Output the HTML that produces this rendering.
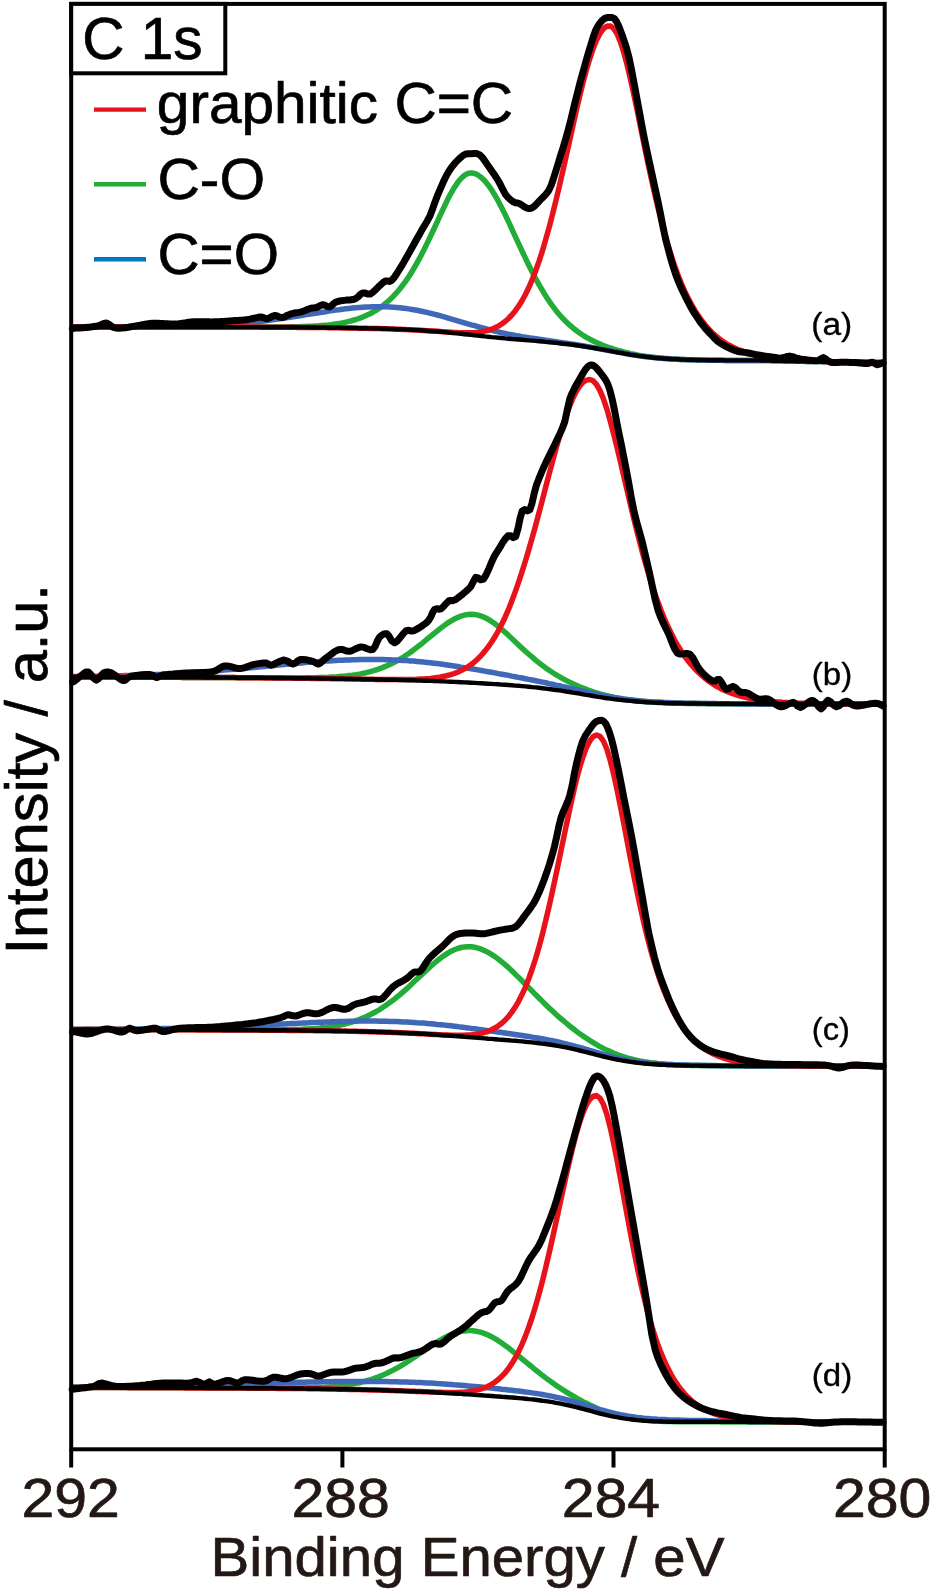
<!DOCTYPE html>
<html><head><meta charset="utf-8"><title>C 1s XPS</title>
<style>
html,body{margin:0;padding:0;background:#fff;}
svg{display:block;filter:blur(0.4px)}
text{font-family:"Liberation Sans",Arial,Helvetica,sans-serif;stroke-linejoin:round;}
</style></head><body>
<svg width="932" height="1591" viewBox="0 0 932 1591">
<rect width="932" height="1591" fill="#fff"/>
<g>
<path d="M71.2,327.0 L74.6,327.0 L78.0,327.0 L81.4,327.0 L84.8,327.0 L88.1,327.0 L91.5,327.0 L94.9,327.0 L98.3,327.0 L101.7,327.0 L105.1,327.0 L108.5,327.0 L111.9,327.0 L115.3,327.0 L118.7,327.0 L122.0,327.0 L125.4,327.0 L128.8,327.0 L132.2,327.0 L135.6,327.0 L139.0,327.0 L142.4,327.0 L145.8,327.0 L149.2,327.0 L152.6,327.0 L155.9,327.0 L159.3,327.0 L162.7,327.0 L166.1,327.0 L169.5,327.0 L172.9,327.0 L176.3,327.0 L179.7,327.0 L183.1,327.0 L186.4,327.0 L189.8,327.0 L193.2,327.0 L196.6,327.0 L200.0,327.0 L203.4,327.0 L206.8,327.0 L210.2,327.0 L213.6,327.0 L217.0,327.0 L220.3,327.0 L223.7,327.0 L227.1,327.0 L230.5,327.1 L233.9,327.1 L237.3,327.1 L240.7,327.1 L244.1,327.1 L247.5,327.1 L250.8,327.1 L254.2,327.1 L257.6,327.1 L261.0,327.1 L264.4,327.0 L267.8,327.0 L271.2,327.0 L274.6,327.0 L278.0,327.0 L281.4,327.0 L284.7,326.9 L288.1,326.9 L291.5,326.8 L294.9,326.8 L298.3,326.7 L301.7,326.6 L305.1,326.5 L308.5,326.3 L311.9,326.2 L315.3,326.0 L318.6,325.8 L322.0,325.5 L325.4,325.2 L328.8,324.9 L332.2,324.5 L335.6,324.0 L339.0,323.5 L342.4,322.9 L345.8,322.2 L349.1,321.4 L352.5,320.5 L355.9,319.5 L359.3,318.4 L362.7,317.1 L366.1,315.6 L369.5,314.0 L372.9,312.2 L376.3,310.2 L379.7,308.0 L383.0,305.5 L386.4,302.7 L389.8,299.7 L393.2,296.4 L396.6,292.7 L400.0,288.7 L403.4,284.3 L406.8,279.6 L410.2,274.5 L413.5,269.0 L416.9,263.1 L420.3,256.9 L423.7,250.3 L427.1,243.4 L430.5,236.3 L433.9,229.0 L437.3,221.6 L440.7,214.2 L444.1,207.0 L447.4,200.1 L450.8,193.6 L454.2,187.7 L457.6,182.6 L461.0,178.5 L464.4,175.4 L467.8,173.5 L471.2,172.9 L474.6,173.5 L478.0,175.1 L481.3,177.5 L484.7,180.8 L488.1,184.9 L491.5,189.7 L494.9,195.2 L498.3,201.2 L501.7,207.7 L505.1,214.5 L508.5,221.6 L511.8,228.9 L515.2,236.3 L518.6,243.7 L522.0,251.0 L525.4,258.2 L528.8,265.2 L532.2,271.9 L535.6,278.4 L539.0,284.6 L542.4,290.4 L545.7,295.9 L549.1,301.1 L552.5,305.9 L555.9,310.4 L559.3,314.5 L562.7,318.3 L566.1,321.7 L569.5,324.9 L572.9,327.8 L576.2,330.5 L579.6,333.0 L583.0,335.2 L586.4,337.3 L589.8,339.2 L593.2,341.0 L596.6,342.6 L600.0,344.1 L603.4,345.5 L606.8,346.8 L610.1,348.0 L613.5,349.0 L616.9,350.1 L620.3,351.0 L623.7,351.9 L627.1,352.8 L630.5,353.6 L633.9,354.3 L637.3,355.0 L640.7,355.6 L644.0,356.1 L647.4,356.6 L650.8,357.0 L654.2,357.4 L657.6,357.8 L661.0,358.1 L664.4,358.4 L667.8,358.6 L671.2,358.9 L674.5,359.1 L677.9,359.3 L681.3,359.4 L684.7,359.6 L688.1,359.7 L691.5,359.8 L694.9,359.9 L698.3,360.0 L701.7,360.1 L705.1,360.1 L708.4,360.2 L711.8,360.2 L715.2,360.3 L718.6,360.3 L722.0,360.3 L725.4,360.4 L728.8,360.4 L732.2,360.4 L735.6,360.4 L738.9,360.4 L742.3,360.4 L745.7,360.4 L749.1,360.4 L752.5,360.4 L755.9,360.4 L759.3,360.4 L762.7,360.5 L766.1,360.6 L769.5,360.6 L772.8,360.7 L776.2,360.8 L779.6,360.8 L783.0,360.9 L786.4,361.0 L789.8,361.0 L793.2,361.1 L796.6,361.2 L800.0,361.2 L803.4,361.3 L806.7,361.4 L810.1,361.4 L813.5,361.5 L816.9,361.6 L820.3,361.6 L823.7,361.7 L827.1,361.8 L830.5,361.8 L833.9,361.9 L837.2,361.9 L840.6,362.0 L844.0,362.0 L847.4,362.1 L850.8,362.1 L854.2,362.2 L857.6,362.2 L861.0,362.2 L864.4,362.3 L867.8,362.3 L871.1,362.4 L874.5,362.4 L877.9,362.4 L881.3,362.5 L884.7,362.5" fill="none" stroke="#22ac38" stroke-width="5.5" stroke-linejoin="round"/>
<path d="M71.2,327.0 L74.6,327.0 L78.0,327.0 L81.4,327.0 L84.8,327.0 L88.1,327.0 L91.5,327.0 L94.9,327.0 L98.3,327.0 L101.7,327.0 L105.1,327.0 L108.5,326.9 L111.9,326.9 L115.3,326.9 L118.7,326.9 L122.0,326.9 L125.4,326.9 L128.8,326.9 L132.2,326.9 L135.6,326.8 L139.0,326.8 L142.4,326.8 L145.8,326.8 L149.2,326.8 L152.6,326.7 L155.9,326.7 L159.3,326.6 L162.7,326.6 L166.1,326.6 L169.5,326.5 L172.9,326.4 L176.3,326.4 L179.7,326.3 L183.1,326.2 L186.4,326.2 L189.8,326.1 L193.2,326.0 L196.6,325.9 L200.0,325.7 L203.4,325.6 L206.8,325.5 L210.2,325.3 L213.6,325.2 L217.0,325.0 L220.3,324.8 L223.7,324.6 L227.1,324.4 L230.5,324.1 L233.9,323.9 L237.3,323.6 L240.7,323.3 L244.1,323.0 L247.5,322.7 L250.8,322.4 L254.2,322.0 L257.6,321.7 L261.0,321.3 L264.4,320.9 L267.8,320.5 L271.2,320.0 L274.6,319.6 L278.0,319.1 L281.4,318.6 L284.7,318.1 L288.1,317.6 L291.5,317.1 L294.9,316.6 L298.3,316.0 L301.7,315.5 L305.1,314.9 L308.5,314.4 L311.9,313.8 L315.3,313.3 L318.6,312.7 L322.0,312.2 L325.4,311.7 L328.8,311.1 L332.2,310.6 L335.6,310.1 L339.0,309.7 L342.4,309.2 L345.8,308.8 L349.1,308.4 L352.5,308.1 L355.9,307.8 L359.3,307.5 L362.7,307.2 L366.1,307.0 L369.5,306.9 L372.9,306.8 L376.3,306.7 L379.7,306.7 L383.0,306.7 L386.4,306.8 L389.8,307.0 L393.2,307.2 L396.6,307.4 L400.0,307.8 L403.4,308.2 L406.8,308.6 L410.2,309.1 L413.5,309.7 L416.9,310.3 L420.3,311.0 L423.7,311.7 L427.1,312.4 L430.5,313.3 L433.9,314.1 L437.3,315.0 L440.7,315.9 L444.1,316.8 L447.4,317.8 L450.8,318.8 L454.2,319.8 L457.6,320.8 L461.0,321.8 L464.4,322.8 L467.8,323.8 L471.2,324.8 L474.6,325.7 L478.0,326.7 L481.3,327.6 L484.7,328.5 L488.1,329.4 L491.5,330.3 L494.9,331.1 L498.3,331.9 L501.7,332.7 L505.1,333.4 L508.5,334.1 L511.8,334.7 L515.2,335.4 L518.6,336.0 L522.0,336.6 L525.4,337.1 L528.8,337.7 L532.2,338.2 L535.6,338.7 L539.0,339.2 L542.4,339.7 L545.7,340.2 L549.1,340.7 L552.5,341.2 L555.9,341.7 L559.3,342.3 L562.7,342.7 L566.1,343.2 L569.5,343.7 L572.9,344.2 L576.2,344.7 L579.6,345.3 L583.0,345.8 L586.4,346.4 L589.8,347.0 L593.2,347.6 L596.6,348.2 L600.0,348.9 L603.4,349.5 L606.8,350.1 L610.1,350.8 L613.5,351.4 L616.9,352.0 L620.3,352.6 L623.7,353.3 L627.1,353.9 L630.5,354.5 L633.9,355.0 L637.3,355.6 L640.7,356.1 L644.0,356.5 L647.4,356.9 L650.8,357.3 L654.2,357.6 L657.6,358.0 L661.0,358.2 L664.4,358.5 L667.8,358.7 L671.2,358.9 L674.5,359.1 L677.9,359.3 L681.3,359.5 L684.7,359.6 L688.1,359.7 L691.5,359.8 L694.9,359.9 L698.3,360.0 L701.7,360.1 L705.1,360.1 L708.4,360.2 L711.8,360.2 L715.2,360.3 L718.6,360.3 L722.0,360.3 L725.4,360.4 L728.8,360.4 L732.2,360.4 L735.6,360.4 L738.9,360.4 L742.3,360.4 L745.7,360.4 L749.1,360.4 L752.5,360.4 L755.9,360.4 L759.3,360.4 L762.7,360.5 L766.1,360.6 L769.5,360.6 L772.8,360.7 L776.2,360.8 L779.6,360.8 L783.0,360.9 L786.4,361.0 L789.8,361.0 L793.2,361.1 L796.6,361.2 L800.0,361.2 L803.4,361.3 L806.7,361.4 L810.1,361.4 L813.5,361.5 L816.9,361.6 L820.3,361.6 L823.7,361.7 L827.1,361.8 L830.5,361.8 L833.9,361.9 L837.2,361.9 L840.6,362.0 L844.0,362.0 L847.4,362.1 L850.8,362.1 L854.2,362.2 L857.6,362.2 L861.0,362.2 L864.4,362.3 L867.8,362.3 L871.1,362.4 L874.5,362.4 L877.9,362.4 L881.3,362.5 L884.7,362.5" fill="none" stroke="#3f68b8" stroke-width="5.5" stroke-linejoin="round"/>
<path d="M71.2,327.0 L74.6,327.0 L78.0,327.0 L81.4,327.0 L84.8,327.0 L88.1,327.0 L91.5,327.0 L94.9,327.0 L98.3,327.0 L101.7,327.0 L105.1,327.0 L108.5,327.0 L111.9,327.0 L115.3,327.0 L118.7,327.0 L122.0,327.0 L125.4,327.0 L128.8,327.0 L132.2,327.0 L135.6,327.0 L139.0,327.0 L142.4,327.0 L145.8,327.0 L149.2,327.0 L152.6,327.0 L155.9,327.0 L159.3,327.0 L162.7,327.0 L166.1,327.0 L169.5,327.0 L172.9,327.0 L176.3,327.0 L179.7,327.0 L183.1,327.0 L186.4,327.0 L189.8,327.0 L193.2,327.0 L196.6,327.0 L200.0,327.0 L203.4,327.0 L206.8,327.0 L210.2,327.0 L213.6,327.0 L217.0,327.0 L220.3,327.0 L223.7,327.1 L227.1,327.1 L230.5,327.1 L233.9,327.1 L237.3,327.1 L240.7,327.1 L244.1,327.1 L247.5,327.1 L250.8,327.1 L254.2,327.1 L257.6,327.1 L261.0,327.2 L264.4,327.2 L267.8,327.2 L271.2,327.2 L274.6,327.2 L278.0,327.2 L281.4,327.3 L284.7,327.3 L288.1,327.3 L291.5,327.3 L294.9,327.3 L298.3,327.4 L301.7,327.4 L305.1,327.4 L308.5,327.5 L311.9,327.5 L315.3,327.5 L318.6,327.6 L322.0,327.6 L325.4,327.6 L328.8,327.7 L332.2,327.7 L335.6,327.8 L339.0,327.8 L342.4,327.9 L345.8,327.9 L349.1,328.0 L352.5,328.0 L355.9,328.1 L359.3,328.2 L362.7,328.2 L366.1,328.3 L369.5,328.4 L372.9,328.4 L376.3,328.5 L379.7,328.6 L383.0,328.7 L386.4,328.8 L389.8,328.9 L393.2,329.0 L396.6,329.2 L400.0,329.3 L403.4,329.4 L406.8,329.6 L410.2,329.7 L413.5,329.9 L416.9,330.1 L420.3,330.3 L423.7,330.5 L427.1,330.7 L430.5,330.9 L433.9,331.1 L437.3,331.3 L440.7,331.6 L444.1,331.8 L447.4,332.0 L450.8,332.2 L454.2,332.4 L457.6,332.6 L461.0,332.7 L464.4,332.8 L467.8,332.8 L471.2,332.8 L474.6,332.6 L478.0,332.3 L481.3,331.8 L484.7,331.2 L488.1,330.3 L491.5,329.2 L494.9,327.8 L498.3,326.1 L501.7,324.0 L505.1,321.5 L508.5,318.5 L511.8,315.0 L515.2,310.9 L518.6,306.2 L522.0,300.7 L525.4,294.5 L528.8,287.5 L532.2,279.7 L535.6,271.0 L539.0,261.4 L542.4,250.9 L545.7,239.6 L549.1,227.4 L552.5,214.4 L555.9,200.7 L559.3,186.4 L562.7,171.6 L566.1,156.4 L569.5,141.1 L572.9,125.9 L576.2,110.9 L579.6,96.4 L583.0,82.7 L586.4,70.0 L589.8,58.5 L593.2,48.4 L596.6,40.0 L600.0,33.4 L603.4,28.8 L606.8,26.3 L610.1,25.9 L613.5,28.2 L616.9,33.5 L620.3,41.6 L623.7,52.2 L627.1,64.9 L630.5,79.3 L633.9,94.8 L637.3,111.0 L640.7,127.6 L644.0,144.2 L647.4,160.6 L650.8,176.5 L654.2,191.7 L657.6,206.2 L661.0,219.8 L664.4,232.5 L667.8,244.4 L671.2,255.4 L674.5,265.5 L677.9,274.8 L681.3,283.3 L684.7,291.1 L688.1,298.1 L691.5,304.6 L694.9,310.4 L698.3,315.7 L701.7,320.5 L705.1,324.8 L708.4,328.7 L711.8,332.2 L715.2,335.3 L718.6,338.2 L722.0,340.7 L725.4,343.0 L728.8,345.0 L732.2,346.8 L735.6,348.4 L738.9,349.9 L742.3,351.1 L745.7,352.3 L749.1,353.3 L752.5,354.2 L755.9,355.0 L759.3,355.6 L762.7,356.3 L766.1,356.9 L769.5,357.5 L772.8,358.0 L776.2,358.4 L779.6,358.8 L783.0,359.1 L786.4,359.4 L789.8,359.7 L793.2,360.0 L796.6,360.2 L800.0,360.4 L803.4,360.6 L806.7,360.8 L810.1,360.9 L813.5,361.1 L816.9,361.2 L820.3,361.3 L823.7,361.4 L827.1,361.5 L830.5,361.6 L833.9,361.7 L837.2,361.8 L840.6,361.9 L844.0,361.9 L847.4,362.0 L850.8,362.1 L854.2,362.1 L857.6,362.2 L861.0,362.2 L864.4,362.2 L867.8,362.3 L871.1,362.3 L874.5,362.4 L877.9,362.4 L881.3,362.5 L884.7,362.5" fill="none" stroke="#e7121a" stroke-width="5.5" stroke-linejoin="round"/>
<path d="M71.2,327.0 L74.6,327.0 L78.0,327.0 L81.4,327.0 L84.8,327.0 L88.1,327.0 L91.5,327.0 L94.9,327.0 L98.3,327.0 L101.7,327.0 L105.1,327.0 L108.5,327.0 L111.9,327.0 L115.3,327.0 L118.7,327.0 L122.0,327.0 L125.4,327.0 L128.8,327.0 L132.2,327.0 L135.6,327.0 L139.0,327.0 L142.4,327.0 L145.8,327.0 L149.2,327.0 L152.6,327.0 L155.9,327.0 L159.3,327.0 L162.7,327.0 L166.1,327.0 L169.5,327.0 L172.9,327.0 L176.3,327.0 L179.7,327.0 L183.1,327.0 L186.4,327.0 L189.8,327.0 L193.2,327.0 L196.6,327.0 L200.0,327.0 L203.4,327.0 L206.8,327.0 L210.2,327.0 L213.6,327.0 L217.0,327.0 L220.3,327.0 L223.7,327.1 L227.1,327.1 L230.5,327.1 L233.9,327.1 L237.3,327.1 L240.7,327.1 L244.1,327.1 L247.5,327.1 L250.8,327.1 L254.2,327.1 L257.6,327.1 L261.0,327.2 L264.4,327.2 L267.8,327.2 L271.2,327.2 L274.6,327.2 L278.0,327.2 L281.4,327.3 L284.7,327.3 L288.1,327.3 L291.5,327.3 L294.9,327.3 L298.3,327.4 L301.7,327.4 L305.1,327.4 L308.5,327.5 L311.9,327.5 L315.3,327.5 L318.6,327.6 L322.0,327.6 L325.4,327.6 L328.8,327.7 L332.2,327.7 L335.6,327.8 L339.0,327.8 L342.4,327.9 L345.8,327.9 L349.1,328.0 L352.5,328.0 L355.9,328.1 L359.3,328.2 L362.7,328.2 L366.1,328.3 L369.5,328.4 L372.9,328.4 L376.3,328.5 L379.7,328.6 L383.0,328.7 L386.4,328.8 L389.8,328.9 L393.2,329.0 L396.6,329.2 L400.0,329.3 L403.4,329.4 L406.8,329.6 L410.2,329.8 L413.5,329.9 L416.9,330.1 L420.3,330.3 L423.7,330.5 L427.1,330.8 L430.5,331.0 L433.9,331.2 L437.3,331.5 L440.7,331.8 L444.1,332.1 L447.4,332.4 L450.8,332.7 L454.2,333.1 L457.6,333.4 L461.0,333.8 L464.4,334.2 L467.8,334.5 L471.2,334.9 L474.6,335.3 L478.0,335.6 L481.3,336.0 L484.7,336.4 L488.1,336.7 L491.5,337.1 L494.9,337.4 L498.3,337.7 L501.7,338.0 L505.1,338.4 L508.5,338.7 L511.8,339.0 L515.2,339.2 L518.6,339.5 L522.0,339.8 L525.4,340.1 L528.8,340.4 L532.2,340.6 L535.6,340.9 L539.0,341.2 L542.4,341.5 L545.7,341.9 L549.1,342.2 L552.5,342.5 L555.9,342.9 L559.3,343.3 L562.7,343.7 L566.1,344.0 L569.5,344.4 L572.9,344.8 L576.2,345.3 L579.6,345.8 L583.0,346.3 L586.4,346.8 L589.8,347.4 L593.2,347.9 L596.6,348.5 L600.0,349.1 L603.4,349.7 L606.8,350.3 L610.1,350.9 L613.5,351.6 L616.9,352.2 L620.3,352.7 L623.7,353.4 L627.1,354.0 L630.5,354.6 L633.9,355.1 L637.3,355.6 L640.7,356.1 L644.0,356.5 L647.4,356.9 L650.8,357.3 L654.2,357.7 L657.6,358.0 L661.0,358.3 L664.4,358.5 L667.8,358.7 L671.2,359.0 L674.5,359.1 L677.9,359.3 L681.3,359.5 L684.7,359.6 L688.1,359.7 L691.5,359.8 L694.9,359.9 L698.3,360.0 L701.7,360.1 L705.1,360.1 L708.4,360.2 L711.8,360.2 L715.2,360.3 L718.6,360.3 L722.0,360.3 L725.4,360.4 L728.8,360.4 L732.2,360.4 L735.6,360.4 L738.9,360.4 L742.3,360.4 L745.7,360.4 L749.1,360.4 L752.5,360.4 L755.9,360.4 L759.3,360.4 L762.7,360.5 L766.1,360.6 L769.5,360.6 L772.8,360.7 L776.2,360.8 L779.6,360.8 L783.0,360.9 L786.4,361.0 L789.8,361.0 L793.2,361.1 L796.6,361.2 L800.0,361.2 L803.4,361.3 L806.7,361.4 L810.1,361.4 L813.5,361.5 L816.9,361.6 L820.3,361.6 L823.7,361.7 L827.1,361.8 L830.5,361.8 L833.9,361.9 L837.2,361.9 L840.6,362.0 L844.0,362.0 L847.4,362.1 L850.8,362.1 L854.2,362.2 L857.6,362.2 L861.0,362.2 L864.4,362.3 L867.8,362.3 L871.1,362.4 L874.5,362.4 L877.9,362.4 L881.3,362.5 L884.7,362.5" fill="none" stroke="#000" stroke-width="4.4" stroke-linejoin="round"/>
<path d="M72.5,328.6 L72.7,328.4 L74.2,328.2 L76.4,328.1 L79.3,327.9 L82.6,327.8 L85.8,327.5 L88.4,327.2 L91.1,326.9 L93.8,326.5 L96.3,326.1 L98.6,325.7 L101.5,324.6 L103.8,323.4 L106.4,323.1 L108.6,324.0 L110.8,325.6 L113.3,327.3 L116.7,328.2 L119.1,328.2 L122.0,328.0 L125.1,327.7 L128.3,327.2 L131.5,326.6 L134.5,326.1 L137.3,325.7 L140.1,325.3 L142.5,324.8 L144.8,324.3 L147.2,323.9 L149.7,323.5 L152.7,323.3 L155.3,323.2 L158.1,323.3 L161.1,323.4 L164.1,323.6 L167.2,323.7 L170.3,323.9 L173.2,323.9 L175.9,323.9 L178.7,323.7 L181.3,323.4 L183.8,323.1 L186.3,322.7 L188.7,322.3 L191.2,322.0 L193.9,321.8 L196.7,321.7 L199.4,321.7 L202.3,321.7 L205.2,321.8 L208.2,321.8 L211.3,321.9 L214.5,321.8 L217.2,321.7 L220.2,321.6 L223.3,321.4 L226.5,321.2 L229.7,321.0 L232.7,320.8 L235.5,320.6 L238.1,320.5 L240.3,320.3 L243.8,320.0 L246.1,319.7 L247.9,319.5 L250.0,319.1 L252.7,318.5 L255.6,317.9 L258.3,317.3 L260.7,317.0 L263.1,317.5 L265.1,318.4 L267.2,318.7 L269.6,317.8 L272.2,316.4 L274.7,315.5 L277.2,316.0 L279.6,317.1 L282.2,317.6 L284.9,316.7 L287.7,315.2 L290.8,313.9 L293.4,313.3 L296.2,312.8 L298.9,312.4 L301.5,311.8 L304.6,310.7 L307.5,309.4 L310.1,308.4 L312.4,308.0 L314.4,307.8 L316.5,307.5 L318.7,306.5 L320.8,305.3 L323.0,304.7 L325.1,305.3 L327.3,306.5 L329.4,306.9 L331.5,305.7 L333.5,303.7 L335.8,302.1 L338.4,301.3 L341.3,300.8 L344.4,300.4 L347.0,300.1 L349.9,299.9 L352.7,299.6 L355.2,298.9 L357.9,297.0 L360.3,294.5 L362.7,292.9 L365.2,293.1 L367.6,294.0 L370.2,294.0 L373.1,292.1 L376.1,289.2 L378.8,286.5 L381.1,284.4 L383.1,282.5 L385.2,281.1 L387.3,281.0 L389.3,281.4 L391.6,280.5 L394.3,277.4 L397.2,273.0 L400.2,268.2 L402.4,264.6 L404.6,260.7 L407.0,256.6 L409.5,252.1 L411.8,248.0 L414.3,243.5 L416.9,238.8 L419.4,234.4 L421.6,230.4 L424.7,225.2 L427.4,220.7 L430.0,215.8 L432.2,210.1 L434.3,203.9 L436.9,197.0 L438.9,192.1 L441.3,186.7 L443.7,181.1 L446.3,175.8 L448.9,171.2 L451.6,167.2 L454.5,163.7 L457.4,160.5 L460.2,157.9 L462.6,155.8 L465.8,154.0 L468.5,153.7 L471.2,153.7 L474.1,153.5 L476.9,153.6 L479.8,154.9 L482.6,157.7 L485.4,161.7 L488.4,166.1 L490.9,169.7 L493.7,173.7 L496.3,177.7 L498.7,181.5 L501.2,186.2 L503.3,190.6 L505.5,194.4 L508.1,197.5 L510.8,200.0 L513.3,201.8 L515.4,202.7 L517.2,202.9 L519.3,203.5 L521.8,205.0 L524.5,206.9 L527.0,208.1 L529.1,208.5 L531.0,208.2 L533.0,207.3 L535.2,205.5 L537.4,203.1 L539.9,200.4 L542.8,197.5 L545.8,194.4 L548.5,190.9 L551.2,185.3 L553.6,178.1 L555.7,171.5 L558.1,163.8 L560.5,155.8 L562.9,148.3 L565.3,140.3 L568.2,130.0 L570.9,119.6 L573.8,107.4 L577.0,94.6 L580.1,82.4 L582.7,72.8 L585.5,62.9 L588.2,53.4 L590.8,44.9 L592.9,38.0 L595.4,30.9 L597.2,27.3 L598.9,24.5 L601.9,20.7 L604.7,18.4 L607.2,17.6 L609.5,17.6 L611.9,17.5 L614.2,18.4 L616.4,21.4 L618.7,26.0 L621.2,32.4 L623.8,40.0 L626.2,47.1 L629.0,57.5 L631.4,69.2 L634.1,83.5 L636.8,97.9 L639.4,111.8 L641.9,125.7 L644.5,139.1 L647.1,151.5 L649.6,163.3 L652.2,175.1 L654.9,187.4 L657.6,199.8 L660.0,211.2 L662.6,224.9 L665.5,238.6 L667.7,247.2 L670.2,256.6 L672.9,266.0 L675.8,274.7 L678.2,281.0 L680.7,287.0 L683.4,292.6 L686.0,298.0 L688.6,303.0 L691.2,307.7 L693.8,312.2 L696.5,316.3 L699.0,320.1 L701.5,323.6 L704.5,327.4 L707.3,330.6 L710.0,333.5 L712.5,336.0 L715.1,338.8 L717.4,341.1 L720.4,343.3 L722.9,344.8 L725.8,346.4 L728.8,347.9 L731.9,349.3 L734.7,350.4 L737.2,351.2 L739.6,351.7 L742.0,352.0 L744.4,352.4 L746.9,352.8 L749.6,353.3 L752.5,353.9 L755.4,354.5 L758.3,355.0 L761.2,355.5 L764.2,356.0 L767.3,356.4 L770.3,356.8 L773.1,357.2 L775.4,357.5 L778.0,357.9 L779.6,358.1 L781.5,358.1 L784.1,357.5 L786.9,356.5 L789.7,356.1 L792.3,356.6 L794.9,357.6 L797.9,358.5 L800.1,358.9 L802.7,359.3 L805.3,359.6 L807.9,360.0 L810.1,360.2 L813.2,360.6 L815.9,360.8 L818.2,360.6 L820.8,358.8 L823.3,357.5 L825.4,358.7 L827.7,360.7 L830.5,362.2 L832.6,362.5 L835.0,362.5 L837.6,362.4 L840.2,362.2 L842.7,362.2 L845.2,362.2 L847.6,362.3 L850.1,362.4 L852.5,362.5 L855.0,362.6 L857.6,362.8 L860.2,363.1 L862.8,363.3 L865.2,363.5 L867.2,363.6 L870.2,362.8 L872.3,362.2 L874.8,363.5 L877.4,364.7 L880.2,363.9 L883.0,362.6" fill="none" stroke="#050000" stroke-width="7.0" stroke-linejoin="round" stroke-linecap="round"/>
<path d="M71.2,677.0 L74.6,677.0 L78.0,677.0 L81.4,677.0 L84.8,677.0 L88.1,677.0 L91.5,677.1 L94.9,677.1 L98.3,677.1 L101.7,677.1 L105.1,677.1 L108.5,677.1 L111.9,677.1 L115.3,677.1 L118.7,677.1 L122.0,677.1 L125.4,677.1 L128.8,677.2 L132.2,677.2 L135.6,677.2 L139.0,677.2 L142.4,677.2 L145.8,677.2 L149.2,677.2 L152.6,677.2 L155.9,677.2 L159.3,677.3 L162.7,677.3 L166.1,677.3 L169.5,677.3 L172.9,677.3 L176.3,677.3 L179.7,677.3 L183.1,677.4 L186.4,677.4 L189.8,677.4 L193.2,677.4 L196.6,677.4 L200.0,677.4 L203.4,677.5 L206.8,677.5 L210.2,677.5 L213.6,677.5 L217.0,677.5 L220.3,677.6 L223.7,677.6 L227.1,677.6 L230.5,677.6 L233.9,677.6 L237.3,677.7 L240.7,677.7 L244.1,677.7 L247.5,677.7 L250.8,677.7 L254.2,677.8 L257.6,677.8 L261.0,677.8 L264.4,677.8 L267.8,677.8 L271.2,677.9 L274.6,677.9 L278.0,677.9 L281.4,677.9 L284.7,677.9 L288.1,677.9 L291.5,677.9 L294.9,677.9 L298.3,677.9 L301.7,677.9 L305.1,677.9 L308.5,677.8 L311.9,677.8 L315.3,677.7 L318.6,677.6 L322.0,677.5 L325.4,677.4 L328.8,677.3 L332.2,677.1 L335.6,676.9 L339.0,676.6 L342.4,676.3 L345.8,676.0 L349.1,675.6 L352.5,675.2 L355.9,674.7 L359.3,674.1 L362.7,673.4 L366.1,672.7 L369.5,671.8 L372.9,670.9 L376.3,669.8 L379.7,668.7 L383.0,667.4 L386.4,666.0 L389.8,664.5 L393.2,662.8 L396.6,661.1 L400.0,659.1 L403.4,657.0 L406.8,654.8 L410.2,652.5 L413.5,650.0 L416.9,647.4 L420.3,644.8 L423.7,642.0 L427.1,639.2 L430.5,636.4 L433.9,633.6 L437.3,630.9 L440.7,628.2 L444.1,625.6 L447.4,623.2 L450.8,621.1 L454.2,619.1 L457.6,617.5 L461.0,616.1 L464.4,615.1 L467.8,614.5 L471.2,614.3 L474.6,614.5 L478.0,615.1 L481.3,616.1 L484.7,617.5 L488.1,619.3 L491.5,621.4 L494.9,623.8 L498.3,626.4 L501.7,629.3 L505.1,632.3 L508.5,635.4 L511.8,638.6 L515.2,641.8 L518.6,645.0 L522.0,648.1 L525.4,651.3 L528.8,654.3 L532.2,657.2 L535.6,660.1 L539.0,662.8 L542.4,665.4 L545.7,667.9 L549.1,670.3 L552.5,672.5 L555.9,674.7 L559.3,676.7 L562.7,678.6 L566.1,680.4 L569.5,682.1 L572.9,683.8 L576.2,685.3 L579.6,686.8 L583.0,688.1 L586.4,689.4 L589.8,690.7 L593.2,691.8 L596.6,692.9 L600.0,693.9 L603.4,694.8 L606.8,695.7 L610.1,696.5 L613.5,697.2 L616.9,697.9 L620.3,698.5 L623.7,699.1 L627.1,699.6 L630.5,700.1 L633.9,700.5 L637.3,700.9 L640.7,701.2 L644.0,701.5 L647.4,701.8 L650.8,702.0 L654.2,702.3 L657.6,702.5 L661.0,702.6 L664.4,702.8 L667.8,702.9 L671.2,703.0 L674.5,703.1 L677.9,703.2 L681.3,703.3 L684.7,703.4 L688.1,703.4 L691.5,703.5 L694.9,703.5 L698.3,703.5 L701.7,703.6 L705.1,703.6 L708.4,703.7 L711.8,703.7 L715.2,703.7 L718.6,703.8 L722.0,703.8 L725.4,703.8 L728.8,703.8 L732.2,703.9 L735.6,703.9 L738.9,703.9 L742.3,703.9 L745.7,703.9 L749.1,703.9 L752.5,703.9 L755.9,703.9 L759.3,703.9 L762.7,704.0 L766.1,704.0 L769.5,704.0 L772.8,704.0 L776.2,704.0 L779.6,704.0 L783.0,704.0 L786.4,704.0 L789.8,704.0 L793.2,704.0 L796.6,704.0 L800.0,704.0 L803.4,704.0 L806.7,704.0 L810.1,704.0 L813.5,704.0 L816.9,704.0 L820.3,704.0 L823.7,704.0 L827.1,704.0 L830.5,704.0 L833.9,704.0 L837.2,704.0 L840.6,704.0 L844.0,704.0 L847.4,704.0 L850.8,704.0 L854.2,704.0 L857.6,704.0 L861.0,704.0 L864.4,704.0 L867.8,704.0 L871.1,704.0 L874.5,704.0 L877.9,704.0 L881.3,704.0 L884.7,704.0" fill="none" stroke="#22ac38" stroke-width="5.5" stroke-linejoin="round"/>
<path d="M71.2,676.5 L74.6,676.5 L78.0,676.5 L81.4,676.4 L84.8,676.4 L88.1,676.3 L91.5,676.3 L94.9,676.2 L98.3,676.2 L101.7,676.1 L105.1,676.1 L108.5,676.0 L111.9,675.9 L115.3,675.9 L118.7,675.8 L122.0,675.7 L125.4,675.6 L128.8,675.5 L132.2,675.4 L135.6,675.3 L139.0,675.2 L142.4,675.1 L145.8,674.9 L149.2,674.8 L152.6,674.7 L155.9,674.5 L159.3,674.4 L162.7,674.2 L166.1,674.1 L169.5,673.9 L172.9,673.7 L176.3,673.5 L179.7,673.3 L183.1,673.1 L186.4,672.9 L189.8,672.7 L193.2,672.5 L196.6,672.2 L200.0,672.0 L203.4,671.8 L206.8,671.5 L210.2,671.2 L213.6,671.0 L217.0,670.7 L220.3,670.4 L223.7,670.1 L227.1,669.8 L230.5,669.5 L233.9,669.2 L237.3,668.9 L240.7,668.6 L244.1,668.3 L247.5,668.0 L250.8,667.7 L254.2,667.4 L257.6,667.0 L261.0,666.7 L264.4,666.4 L267.8,666.0 L271.2,665.7 L274.6,665.4 L278.0,665.1 L281.4,664.7 L284.7,664.4 L288.1,664.1 L291.5,663.8 L294.9,663.5 L298.3,663.2 L301.7,662.9 L305.1,662.6 L308.5,662.3 L311.9,662.1 L315.3,661.8 L318.6,661.6 L322.0,661.3 L325.4,661.1 L328.8,660.9 L332.2,660.7 L335.6,660.5 L339.0,660.3 L342.4,660.2 L345.8,660.0 L349.1,659.9 L352.5,659.8 L355.9,659.7 L359.3,659.6 L362.7,659.6 L366.1,659.5 L369.5,659.5 L372.9,659.5 L376.3,659.5 L379.7,659.6 L383.0,659.6 L386.4,659.7 L389.8,659.8 L393.2,659.9 L396.6,660.1 L400.0,660.2 L403.4,660.4 L406.8,660.6 L410.2,660.9 L413.5,661.1 L416.9,661.4 L420.3,661.7 L423.7,662.1 L427.1,662.4 L430.5,662.8 L433.9,663.2 L437.3,663.6 L440.7,664.0 L444.1,664.5 L447.4,665.0 L450.8,665.5 L454.2,666.0 L457.6,666.5 L461.0,667.1 L464.4,667.6 L467.8,668.2 L471.2,668.7 L474.6,669.3 L478.0,669.9 L481.3,670.5 L484.7,671.1 L488.1,671.7 L491.5,672.3 L494.9,672.9 L498.3,673.6 L501.7,674.2 L505.1,674.8 L508.5,675.4 L511.8,676.1 L515.2,676.7 L518.6,677.4 L522.0,678.0 L525.4,678.7 L528.8,679.4 L532.2,680.0 L535.6,680.7 L539.0,681.4 L542.4,682.1 L545.7,682.8 L549.1,683.6 L552.5,684.3 L555.9,685.1 L559.3,685.8 L562.7,686.6 L566.1,687.3 L569.5,688.1 L572.9,688.9 L576.2,689.7 L579.6,690.5 L583.0,691.2 L586.4,692.0 L589.8,692.8 L593.2,693.5 L596.6,694.3 L600.0,695.0 L603.4,695.6 L606.8,696.3 L610.1,696.9 L613.5,697.5 L616.9,698.0 L620.3,698.5 L623.7,699.0 L627.1,699.4 L630.5,699.8 L633.9,700.2 L637.3,700.6 L640.7,700.9 L644.0,701.2 L647.4,701.5 L650.8,701.7 L654.2,701.9 L657.6,702.1 L661.0,702.3 L664.4,702.5 L667.8,702.6 L671.2,702.8 L674.5,702.9 L677.9,703.0 L681.3,703.1 L684.7,703.2 L688.1,703.2 L691.5,703.3 L694.9,703.3 L698.3,703.4 L701.7,703.4 L705.1,703.5 L708.4,703.5 L711.8,703.6 L715.2,703.6 L718.6,703.7 L722.0,703.7 L725.4,703.7 L728.8,703.8 L732.2,703.8 L735.6,703.8 L738.9,703.8 L742.3,703.9 L745.7,703.9 L749.1,703.9 L752.5,703.9 L755.9,703.9 L759.3,703.9 L762.7,703.9 L766.1,703.9 L769.5,704.0 L772.8,704.0 L776.2,704.0 L779.6,704.0 L783.0,704.0 L786.4,704.0 L789.8,704.0 L793.2,704.0 L796.6,704.0 L800.0,704.0 L803.4,704.0 L806.7,704.0 L810.1,704.0 L813.5,704.0 L816.9,704.0 L820.3,704.0 L823.7,704.0 L827.1,704.0 L830.5,704.0 L833.9,704.0 L837.2,704.0 L840.6,704.0 L844.0,704.0 L847.4,704.0 L850.8,704.0 L854.2,704.0 L857.6,704.0 L861.0,704.0 L864.4,704.0 L867.8,704.0 L871.1,704.0 L874.5,704.0 L877.9,704.0 L881.3,704.0 L884.7,704.0" fill="none" stroke="#3f68b8" stroke-width="5.5" stroke-linejoin="round"/>
<path d="M71.2,677.0 L74.6,677.0 L78.0,677.0 L81.4,677.0 L84.8,677.0 L88.1,677.0 L91.5,677.1 L94.9,677.1 L98.3,677.1 L101.7,677.1 L105.1,677.1 L108.5,677.1 L111.9,677.1 L115.3,677.1 L118.7,677.1 L122.0,677.1 L125.4,677.1 L128.8,677.2 L132.2,677.2 L135.6,677.2 L139.0,677.2 L142.4,677.2 L145.8,677.2 L149.2,677.2 L152.6,677.2 L155.9,677.2 L159.3,677.3 L162.7,677.3 L166.1,677.3 L169.5,677.3 L172.9,677.3 L176.3,677.3 L179.7,677.3 L183.1,677.4 L186.4,677.4 L189.8,677.4 L193.2,677.4 L196.6,677.4 L200.0,677.4 L203.4,677.5 L206.8,677.5 L210.2,677.5 L213.6,677.5 L217.0,677.5 L220.3,677.6 L223.7,677.6 L227.1,677.6 L230.5,677.6 L233.9,677.6 L237.3,677.7 L240.7,677.7 L244.1,677.7 L247.5,677.7 L250.8,677.8 L254.2,677.8 L257.6,677.8 L261.0,677.8 L264.4,677.9 L267.8,677.9 L271.2,677.9 L274.6,678.0 L278.0,678.0 L281.4,678.0 L284.7,678.1 L288.1,678.1 L291.5,678.1 L294.9,678.2 L298.3,678.2 L301.7,678.2 L305.1,678.3 L308.5,678.3 L311.9,678.4 L315.3,678.4 L318.6,678.5 L322.0,678.5 L325.4,678.6 L328.8,678.6 L332.2,678.7 L335.6,678.7 L339.0,678.8 L342.4,678.8 L345.8,678.9 L349.1,678.9 L352.5,679.0 L355.9,679.0 L359.3,679.1 L362.7,679.2 L366.1,679.2 L369.5,679.3 L372.9,679.3 L376.3,679.4 L379.7,679.4 L383.0,679.5 L386.4,679.5 L389.8,679.5 L393.2,679.6 L396.6,679.6 L400.0,679.6 L403.4,679.6 L406.8,679.5 L410.2,679.5 L413.5,679.4 L416.9,679.3 L420.3,679.1 L423.7,679.0 L427.1,678.7 L430.5,678.4 L433.9,678.0 L437.3,677.6 L440.7,677.0 L444.1,676.3 L447.4,675.5 L450.8,674.6 L454.2,673.5 L457.6,672.2 L461.0,670.6 L464.4,668.9 L467.8,666.8 L471.2,664.5 L474.6,661.8 L478.0,658.7 L481.3,655.3 L484.7,651.4 L488.1,647.1 L491.5,642.2 L494.9,636.8 L498.3,630.9 L501.7,624.3 L505.1,617.2 L508.5,609.4 L511.8,601.0 L515.2,591.9 L518.6,582.2 L522.0,571.9 L525.4,561.0 L528.8,549.6 L532.2,537.7 L535.6,525.4 L539.0,512.8 L542.4,499.9 L545.7,487.0 L549.1,474.1 L552.5,461.5 L555.9,449.1 L559.3,437.3 L562.7,426.1 L566.1,415.8 L569.5,406.5 L572.9,398.4 L576.2,391.6 L579.6,386.2 L583.0,382.3 L586.4,380.1 L589.8,379.5 L593.2,380.8 L596.6,384.6 L600.0,390.6 L603.4,398.8 L606.8,408.8 L610.1,420.4 L613.5,433.2 L616.9,446.9 L620.3,461.2 L623.7,475.8 L627.1,490.4 L630.5,504.9 L633.9,519.0 L637.3,532.7 L640.7,545.8 L644.0,558.3 L647.4,570.1 L650.8,581.2 L654.2,591.6 L657.6,601.2 L661.0,610.2 L664.4,618.6 L667.8,626.2 L671.2,633.3 L674.5,639.8 L677.9,645.8 L681.3,651.3 L684.7,656.3 L688.1,660.9 L691.5,665.0 L694.9,668.8 L698.3,672.3 L701.7,675.4 L705.1,678.3 L708.4,680.9 L711.8,683.3 L715.2,685.5 L718.6,687.4 L722.0,689.2 L725.4,690.7 L728.8,692.2 L732.2,693.5 L735.6,694.6 L738.9,695.7 L742.3,696.6 L745.7,697.4 L749.1,698.2 L752.5,698.8 L755.9,699.4 L759.3,700.0 L762.7,700.5 L766.1,700.9 L769.5,701.3 L772.8,701.6 L776.2,701.9 L779.6,702.1 L783.0,702.4 L786.4,702.6 L789.8,702.8 L793.2,702.9 L796.6,703.1 L800.0,703.2 L803.4,703.3 L806.7,703.4 L810.1,703.5 L813.5,703.5 L816.9,703.6 L820.3,703.7 L823.7,703.7 L827.1,703.7 L830.5,703.8 L833.9,703.8 L837.2,703.8 L840.6,703.9 L844.0,703.9 L847.4,703.9 L850.8,703.9 L854.2,703.9 L857.6,703.9 L861.0,703.9 L864.4,704.0 L867.8,704.0 L871.1,704.0 L874.5,704.0 L877.9,704.0 L881.3,704.0 L884.7,704.0" fill="none" stroke="#e7121a" stroke-width="5.5" stroke-linejoin="round"/>
<path d="M71.2,677.0 L74.6,677.0 L78.0,677.0 L81.4,677.0 L84.8,677.0 L88.1,677.0 L91.5,677.1 L94.9,677.1 L98.3,677.1 L101.7,677.1 L105.1,677.1 L108.5,677.1 L111.9,677.1 L115.3,677.1 L118.7,677.1 L122.0,677.1 L125.4,677.1 L128.8,677.2 L132.2,677.2 L135.6,677.2 L139.0,677.2 L142.4,677.2 L145.8,677.2 L149.2,677.2 L152.6,677.2 L155.9,677.2 L159.3,677.3 L162.7,677.3 L166.1,677.3 L169.5,677.3 L172.9,677.3 L176.3,677.3 L179.7,677.3 L183.1,677.4 L186.4,677.4 L189.8,677.4 L193.2,677.4 L196.6,677.4 L200.0,677.4 L203.4,677.5 L206.8,677.5 L210.2,677.5 L213.6,677.5 L217.0,677.5 L220.3,677.6 L223.7,677.6 L227.1,677.6 L230.5,677.6 L233.9,677.6 L237.3,677.7 L240.7,677.7 L244.1,677.7 L247.5,677.7 L250.8,677.8 L254.2,677.8 L257.6,677.8 L261.0,677.8 L264.4,677.9 L267.8,677.9 L271.2,677.9 L274.6,678.0 L278.0,678.0 L281.4,678.0 L284.7,678.1 L288.1,678.1 L291.5,678.1 L294.9,678.2 L298.3,678.2 L301.7,678.2 L305.1,678.3 L308.5,678.3 L311.9,678.4 L315.3,678.4 L318.6,678.5 L322.0,678.5 L325.4,678.6 L328.8,678.6 L332.2,678.7 L335.6,678.7 L339.0,678.8 L342.4,678.8 L345.8,678.9 L349.1,678.9 L352.5,679.0 L355.9,679.1 L359.3,679.1 L362.7,679.2 L366.1,679.3 L369.5,679.3 L372.9,679.4 L376.3,679.5 L379.7,679.5 L383.0,679.6 L386.4,679.7 L389.8,679.8 L393.2,679.8 L396.6,679.9 L400.0,680.0 L403.4,680.1 L406.8,680.2 L410.2,680.3 L413.5,680.4 L416.9,680.5 L420.3,680.6 L423.7,680.7 L427.1,680.8 L430.5,680.9 L433.9,681.0 L437.3,681.1 L440.7,681.3 L444.1,681.4 L447.4,681.6 L450.8,681.7 L454.2,681.9 L457.6,682.0 L461.0,682.2 L464.4,682.4 L467.8,682.5 L471.2,682.7 L474.6,682.9 L478.0,683.1 L481.3,683.3 L484.7,683.5 L488.1,683.7 L491.5,683.9 L494.9,684.1 L498.3,684.3 L501.7,684.6 L505.1,684.8 L508.5,685.0 L511.8,685.3 L515.2,685.6 L518.6,685.8 L522.0,686.1 L525.4,686.4 L528.8,686.7 L532.2,687.1 L535.6,687.4 L539.0,687.8 L542.4,688.2 L545.7,688.6 L549.1,689.0 L552.5,689.5 L555.9,690.0 L559.3,690.4 L562.7,690.9 L566.1,691.5 L569.5,692.0 L572.9,692.6 L576.2,693.1 L579.6,693.7 L583.0,694.3 L586.4,694.9 L589.8,695.4 L593.2,696.0 L596.6,696.6 L600.0,697.1 L603.4,697.7 L606.8,698.2 L610.1,698.6 L613.5,699.1 L616.9,699.5 L620.3,699.9 L623.7,700.3 L627.1,700.6 L630.5,700.9 L633.9,701.2 L637.3,701.5 L640.7,701.8 L644.0,702.0 L647.4,702.2 L650.8,702.4 L654.2,702.6 L657.6,702.7 L661.0,702.8 L664.4,703.0 L667.8,703.1 L671.2,703.2 L674.5,703.2 L677.9,703.3 L681.3,703.4 L684.7,703.4 L688.1,703.5 L691.5,703.5 L694.9,703.5 L698.3,703.5 L701.7,703.6 L705.1,703.6 L708.4,703.7 L711.8,703.7 L715.2,703.7 L718.6,703.8 L722.0,703.8 L725.4,703.8 L728.8,703.8 L732.2,703.9 L735.6,703.9 L738.9,703.9 L742.3,703.9 L745.7,703.9 L749.1,703.9 L752.5,703.9 L755.9,703.9 L759.3,704.0 L762.7,704.0 L766.1,704.0 L769.5,704.0 L772.8,704.0 L776.2,704.0 L779.6,704.0 L783.0,704.0 L786.4,704.0 L789.8,704.0 L793.2,704.0 L796.6,704.0 L800.0,704.0 L803.4,704.0 L806.7,704.0 L810.1,704.0 L813.5,704.0 L816.9,704.0 L820.3,704.0 L823.7,704.0 L827.1,704.0 L830.5,704.0 L833.9,704.0 L837.2,704.0 L840.6,704.0 L844.0,704.0 L847.4,704.0 L850.8,704.0 L854.2,704.0 L857.6,704.0 L861.0,704.0 L864.4,704.0 L867.8,704.0 L871.1,704.0 L874.5,704.0 L877.9,704.0 L881.3,704.0 L884.7,704.0" fill="none" stroke="#000" stroke-width="4.4" stroke-linejoin="round"/>
<path d="M72.5,682.0 L73.0,682.1 L74.2,681.4 L76.4,679.6 L79.2,677.1 L81.9,675.0 L84.1,673.3 L86.1,672.0 L88.3,671.9 L90.8,674.4 L93.4,678.1 L96.0,680.1 L98.6,678.6 L101.2,675.3 L103.8,672.9 L106.2,672.1 L108.6,672.1 L111.5,672.9 L114.2,674.6 L117.3,677.0 L120.4,679.3 L123.1,680.6 L125.5,680.0 L127.5,678.0 L130.8,676.3 L133.1,675.9 L135.8,675.5 L138.9,675.1 L142.1,674.8 L145.2,674.6 L147.9,674.5 L150.1,674.5 L153.2,675.4 L154.9,676.8 L156.6,677.6 L158.0,677.1 L159.4,676.0 L163.0,675.0 L165.0,674.7 L167.5,674.5 L170.3,674.2 L173.3,674.0 L176.4,673.7 L179.7,673.5 L182.9,673.3 L185.9,673.1 L188.8,672.9 L191.9,672.8 L195.0,672.7 L198.1,672.7 L201.2,672.6 L204.2,672.6 L207.0,672.5 L209.6,672.3 L212.0,671.9 L215.2,670.9 L217.7,669.5 L220.0,668.0 L222.2,666.7 L224.8,666.0 L227.3,666.0 L229.9,666.4 L232.6,667.1 L235.2,667.8 L237.8,668.4 L240.3,668.5 L243.0,668.1 L245.6,667.3 L248.1,666.4 L250.6,665.4 L253.1,664.7 L255.8,664.1 L258.6,663.6 L261.4,663.2 L263.9,663.0 L266.0,662.9 L268.6,664.3 L271.2,665.2 L273.3,664.5 L276.0,663.2 L278.8,661.8 L281.6,660.6 L284.0,660.0 L287.3,661.0 L290.2,663.0 L292.9,664.1 L295.4,663.0 L297.7,660.9 L300.6,659.5 L303.0,659.5 L305.8,659.8 L308.7,660.4 L311.3,661.0 L313.5,661.6 L316.4,663.4 L318.6,664.1 L320.8,662.7 L323.3,660.3 L326.4,657.7 L328.7,656.0 L331.3,654.1 L334.0,652.1 L336.7,650.5 L339.2,649.5 L341.9,649.4 L344.4,650.2 L346.9,651.1 L349.5,651.3 L352.3,650.5 L355.2,649.0 L358.2,647.7 L361.1,646.9 L364.1,647.4 L367.2,648.7 L370.2,649.7 L372.7,649.5 L375.2,646.3 L377.1,641.5 L379.2,637.6 L381.7,635.2 L384.3,633.7 L386.9,633.7 L389.3,636.6 L391.7,640.9 L394.6,642.8 L397.3,641.0 L400.4,637.3 L403.5,633.4 L406.2,630.7 L408.8,630.2 L411.0,631.0 L413.9,630.7 L416.4,629.4 L419.5,627.6 L422.7,625.5 L425.7,623.3 L428.1,621.1 L430.8,617.0 L432.6,612.6 L434.5,609.5 L436.6,608.7 L438.7,609.2 L441.0,608.8 L443.5,606.5 L446.2,603.4 L448.7,601.0 L450.6,600.5 L452.3,600.8 L455.1,599.8 L457.3,598.3 L460.0,596.2 L462.9,593.9 L465.9,591.4 L468.5,589.0 L470.6,586.9 L473.6,581.2 L475.7,577.3 L478.0,577.9 L480.6,579.8 L483.5,579.1 L486.0,574.9 L488.9,568.7 L491.6,562.2 L493.8,557.3 L495.8,553.7 L497.7,550.9 L499.9,547.3 L502.6,542.8 L505.5,538.6 L508.0,535.7 L510.8,535.8 L513.3,537.6 L515.7,536.5 L517.9,529.1 L520.0,518.7 L522.2,511.0 L524.7,509.6 L527.4,511.0 L529.9,509.7 L532.0,503.3 L534.0,494.2 L536.4,485.2 L538.8,478.9 L541.5,472.4 L544.2,466.2 L546.7,460.7 L549.4,455.2 L551.7,450.7 L554.4,445.3 L556.9,440.0 L559.7,434.2 L562.4,428.1 L564.7,422.1 L567.2,410.3 L569.8,398.9 L572.0,393.4 L574.6,388.0 L577.4,382.9 L580.1,378.3 L582.7,373.9 L585.2,369.8 L587.8,366.6 L590.4,364.9 L593.0,365.3 L595.6,367.2 L598.2,370.0 L600.7,373.2 L603.1,376.2 L605.3,379.4 L607.6,383.7 L609.8,389.9 L612.1,398.8 L614.4,409.8 L616.6,421.4 L618.8,432.4 L621.5,445.5 L624.0,458.1 L626.5,471.0 L629.1,485.0 L631.6,499.3 L634.2,512.2 L636.8,522.4 L639.3,531.3 L641.9,540.6 L644.4,551.1 L647.0,562.1 L649.6,573.5 L652.2,585.7 L654.9,598.3 L657.9,609.7 L660.5,616.9 L663.4,623.4 L666.3,629.3 L669.0,634.8 L671.8,642.0 L674.4,648.4 L677.4,653.0 L679.7,654.1 L682.3,654.1 L685.0,653.6 L687.6,653.5 L690.0,654.4 L692.6,657.3 L694.9,661.4 L697.1,665.8 L699.7,669.7 L702.1,672.4 L704.8,675.1 L707.5,677.5 L710.1,679.5 L712.3,680.9 L715.1,681.0 L717.2,679.6 L719.3,679.5 L721.6,682.4 L723.9,686.5 L726.2,689.2 L728.5,688.9 L730.9,687.2 L733.2,686.4 L735.5,687.8 L737.9,690.2 L740.2,692.0 L742.4,692.5 L744.6,692.4 L747.2,692.9 L749.7,694.2 L752.6,696.0 L755.5,697.8 L758.3,699.0 L760.8,699.2 L763.1,698.9 L765.5,698.6 L768.1,699.0 L770.4,700.3 L772.9,702.1 L775.5,704.2 L778.1,705.9 L780.6,706.8 L783.2,706.5 L785.9,705.4 L788.6,704.0 L791.0,702.8 L793.2,702.3 L795.7,703.7 L797.7,706.2 L800.2,707.4 L802.4,706.5 L805.0,704.7 L807.7,702.7 L810.4,701.0 L812.7,700.4 L815.9,702.7 L818.6,706.7 L821.1,708.8 L823.5,706.7 L825.6,702.7 L828.0,700.4 L830.6,701.9 L833.4,705.0 L836.4,706.8 L838.8,706.0 L841.2,704.1 L843.7,702.1 L846.2,701.2 L848.4,701.8 L850.4,703.4 L852.8,705.1 L855.9,706.0 L858.3,705.9 L861.1,705.6 L864.2,705.0 L867.4,704.4 L870.5,703.8 L873.2,703.4 L875.5,703.2 L878.9,703.7 L880.9,704.9 L883.0,706.0" fill="none" stroke="#050000" stroke-width="7.0" stroke-linejoin="round" stroke-linecap="round"/>
<path d="M71.2,1029.5 L74.6,1029.5 L78.0,1029.5 L81.4,1029.5 L84.8,1029.5 L88.1,1029.5 L91.5,1029.5 L94.9,1029.6 L98.3,1029.6 L101.7,1029.6 L105.1,1029.6 L108.5,1029.6 L111.9,1029.6 L115.3,1029.6 L118.7,1029.6 L122.0,1029.6 L125.4,1029.6 L128.8,1029.6 L132.2,1029.6 L135.6,1029.7 L139.0,1029.7 L142.4,1029.7 L145.8,1029.7 L149.2,1029.7 L152.6,1029.7 L155.9,1029.7 L159.3,1029.7 L162.7,1029.7 L166.1,1029.7 L169.5,1029.8 L172.9,1029.8 L176.3,1029.8 L179.7,1029.8 L183.1,1029.8 L186.4,1029.8 L189.8,1029.8 L193.2,1029.8 L196.6,1029.8 L200.0,1029.9 L203.4,1029.9 L206.8,1029.9 L210.2,1029.9 L213.6,1029.9 L217.0,1029.9 L220.3,1029.9 L223.7,1029.9 L227.1,1030.0 L230.5,1030.0 L233.9,1030.0 L237.3,1030.0 L240.7,1030.0 L244.1,1030.0 L247.5,1030.0 L250.8,1030.0 L254.2,1030.0 L257.6,1030.0 L261.0,1030.0 L264.4,1030.0 L267.8,1030.0 L271.2,1030.0 L274.6,1029.9 L278.0,1029.9 L281.4,1029.9 L284.7,1029.8 L288.1,1029.7 L291.5,1029.6 L294.9,1029.5 L298.3,1029.4 L301.7,1029.3 L305.1,1029.1 L308.5,1028.9 L311.9,1028.7 L315.3,1028.5 L318.6,1028.2 L322.0,1027.8 L325.4,1027.4 L328.8,1027.0 L332.2,1026.5 L335.6,1025.9 L339.0,1025.2 L342.4,1024.5 L345.8,1023.7 L349.1,1022.8 L352.5,1021.8 L355.9,1020.7 L359.3,1019.5 L362.7,1018.1 L366.1,1016.7 L369.5,1015.1 L372.9,1013.3 L376.3,1011.5 L379.7,1009.5 L383.0,1007.3 L386.4,1005.0 L389.8,1002.6 L393.2,1000.1 L396.6,997.4 L400.0,994.6 L403.4,991.6 L406.8,988.6 L410.2,985.5 L413.5,982.3 L416.9,979.1 L420.3,975.9 L423.7,972.7 L427.1,969.6 L430.5,966.5 L433.9,963.5 L437.3,960.7 L440.7,958.0 L444.1,955.6 L447.4,953.4 L450.8,951.4 L454.2,949.8 L457.6,948.5 L461.0,947.5 L464.4,946.9 L467.8,946.7 L471.2,946.8 L474.6,947.3 L478.0,948.1 L481.3,949.2 L484.7,950.7 L488.1,952.4 L491.5,954.4 L494.9,956.6 L498.3,959.1 L501.7,961.8 L505.1,964.6 L508.5,967.6 L511.8,970.8 L515.2,974.1 L518.6,977.4 L522.0,980.8 L525.4,984.3 L528.8,987.7 L532.2,991.2 L535.6,994.6 L539.0,998.0 L542.4,1001.4 L545.7,1004.7 L549.1,1007.9 L552.5,1011.1 L555.9,1014.2 L559.3,1017.3 L562.7,1020.2 L566.1,1023.0 L569.5,1025.8 L572.9,1028.5 L576.2,1031.1 L579.6,1033.6 L583.0,1036.0 L586.4,1038.3 L589.8,1040.5 L593.2,1042.6 L596.6,1044.7 L600.0,1046.6 L603.4,1048.4 L606.8,1050.1 L610.1,1051.6 L613.5,1053.1 L616.9,1054.4 L620.3,1055.7 L623.7,1056.8 L627.1,1057.9 L630.5,1058.8 L633.9,1059.6 L637.3,1060.4 L640.7,1061.1 L644.0,1061.7 L647.4,1062.2 L650.8,1062.7 L654.2,1063.1 L657.6,1063.5 L661.0,1063.8 L664.4,1064.1 L667.8,1064.4 L671.2,1064.6 L674.5,1064.8 L677.9,1064.9 L681.3,1065.1 L684.7,1065.2 L688.1,1065.3 L691.5,1065.4 L694.9,1065.4 L698.3,1065.5 L701.7,1065.5 L705.1,1065.6 L708.4,1065.7 L711.8,1065.7 L715.2,1065.7 L718.6,1065.8 L722.0,1065.8 L725.4,1065.8 L728.8,1065.9 L732.2,1065.9 L735.6,1065.9 L738.9,1065.9 L742.3,1065.9 L745.7,1065.9 L749.1,1066.0 L752.5,1066.0 L755.9,1066.0 L759.3,1066.0 L762.7,1066.0 L766.1,1066.0 L769.5,1066.0 L772.8,1066.0 L776.2,1066.0 L779.6,1066.0 L783.0,1066.0 L786.4,1066.0 L789.8,1066.0 L793.2,1066.0 L796.6,1066.0 L800.0,1066.0 L803.4,1066.0 L806.7,1066.0 L810.1,1066.0 L813.5,1066.0 L816.9,1066.0 L820.3,1066.0 L823.7,1066.0 L827.1,1066.0 L830.5,1066.0 L833.9,1066.0 L837.2,1066.0 L840.6,1066.0 L844.0,1066.0 L847.4,1066.0 L850.8,1066.0 L854.2,1066.0 L857.6,1066.0 L861.0,1066.0 L864.4,1066.0 L867.8,1066.0 L871.1,1066.0 L874.5,1066.0 L877.9,1066.0 L881.3,1066.0 L884.7,1066.0" fill="none" stroke="#22ac38" stroke-width="5.5" stroke-linejoin="round"/>
<path d="M71.2,1029.4 L74.6,1029.4 L78.0,1029.4 L81.4,1029.4 L84.8,1029.3 L88.1,1029.3 L91.5,1029.3 L94.9,1029.3 L98.3,1029.3 L101.7,1029.3 L105.1,1029.3 L108.5,1029.3 L111.9,1029.2 L115.3,1029.2 L118.7,1029.2 L122.0,1029.2 L125.4,1029.1 L128.8,1029.1 L132.2,1029.1 L135.6,1029.0 L139.0,1029.0 L142.4,1029.0 L145.8,1028.9 L149.2,1028.9 L152.6,1028.8 L155.9,1028.8 L159.3,1028.7 L162.7,1028.6 L166.1,1028.6 L169.5,1028.5 L172.9,1028.4 L176.3,1028.4 L179.7,1028.3 L183.1,1028.2 L186.4,1028.1 L189.8,1028.0 L193.2,1027.9 L196.6,1027.8 L200.0,1027.7 L203.4,1027.6 L206.8,1027.5 L210.2,1027.4 L213.6,1027.3 L217.0,1027.2 L220.3,1027.0 L223.7,1026.9 L227.1,1026.8 L230.5,1026.6 L233.9,1026.5 L237.3,1026.3 L240.7,1026.2 L244.1,1026.0 L247.5,1025.9 L250.8,1025.7 L254.2,1025.5 L257.6,1025.4 L261.0,1025.2 L264.4,1025.0 L267.8,1024.8 L271.2,1024.7 L274.6,1024.5 L278.0,1024.3 L281.4,1024.1 L284.7,1024.0 L288.1,1023.8 L291.5,1023.6 L294.9,1023.4 L298.3,1023.2 L301.7,1023.1 L305.1,1022.9 L308.5,1022.8 L311.9,1022.6 L315.3,1022.5 L318.6,1022.3 L322.0,1022.2 L325.4,1022.0 L328.8,1021.9 L332.2,1021.8 L335.6,1021.7 L339.0,1021.6 L342.4,1021.5 L345.8,1021.4 L349.1,1021.3 L352.5,1021.2 L355.9,1021.2 L359.3,1021.1 L362.7,1021.1 L366.1,1021.1 L369.5,1021.1 L372.9,1021.1 L376.3,1021.1 L379.7,1021.2 L383.0,1021.2 L386.4,1021.3 L389.8,1021.4 L393.2,1021.5 L396.6,1021.6 L400.0,1021.7 L403.4,1021.9 L406.8,1022.0 L410.2,1022.2 L413.5,1022.4 L416.9,1022.7 L420.3,1022.9 L423.7,1023.1 L427.1,1023.4 L430.5,1023.7 L433.9,1024.0 L437.3,1024.4 L440.7,1024.7 L444.1,1025.1 L447.4,1025.4 L450.8,1025.8 L454.2,1026.2 L457.6,1026.6 L461.0,1027.1 L464.4,1027.5 L467.8,1027.9 L471.2,1028.4 L474.6,1028.8 L478.0,1029.3 L481.3,1029.7 L484.7,1030.2 L488.1,1030.7 L491.5,1031.1 L494.9,1031.6 L498.3,1032.1 L501.7,1032.5 L505.1,1033.0 L508.5,1033.5 L511.8,1034.0 L515.2,1034.5 L518.6,1035.0 L522.0,1035.5 L525.4,1036.0 L528.8,1036.5 L532.2,1037.1 L535.6,1037.6 L539.0,1038.2 L542.4,1038.8 L545.7,1039.4 L549.1,1040.1 L552.5,1040.8 L555.9,1041.5 L559.3,1042.3 L562.7,1043.1 L566.1,1043.9 L569.5,1044.8 L572.9,1045.7 L576.2,1046.6 L579.6,1047.5 L583.0,1048.5 L586.4,1049.5 L589.8,1050.5 L593.2,1051.5 L596.6,1052.5 L600.0,1053.5 L603.4,1054.5 L606.8,1055.4 L610.1,1056.3 L613.5,1057.1 L616.9,1057.9 L620.3,1058.7 L623.7,1059.4 L627.1,1060.0 L630.5,1060.6 L633.9,1061.2 L637.3,1061.7 L640.7,1062.1 L644.0,1062.5 L647.4,1062.9 L650.8,1063.2 L654.2,1063.5 L657.6,1063.8 L661.0,1064.0 L664.4,1064.3 L667.8,1064.4 L671.2,1064.6 L674.5,1064.8 L677.9,1064.9 L681.3,1065.0 L684.7,1065.1 L688.1,1065.2 L691.5,1065.2 L694.9,1065.3 L698.3,1065.3 L701.7,1065.4 L705.1,1065.5 L708.4,1065.5 L711.8,1065.6 L715.2,1065.6 L718.6,1065.7 L722.0,1065.7 L725.4,1065.7 L728.8,1065.8 L732.2,1065.8 L735.6,1065.8 L738.9,1065.8 L742.3,1065.9 L745.7,1065.9 L749.1,1065.9 L752.5,1065.9 L755.9,1065.9 L759.3,1065.9 L762.7,1065.9 L766.1,1065.9 L769.5,1065.9 L772.8,1066.0 L776.2,1066.0 L779.6,1066.0 L783.0,1066.0 L786.4,1066.0 L789.8,1066.0 L793.2,1066.0 L796.6,1066.0 L800.0,1066.0 L803.4,1066.0 L806.7,1066.0 L810.1,1066.0 L813.5,1066.0 L816.9,1066.0 L820.3,1066.0 L823.7,1066.0 L827.1,1066.0 L830.5,1066.0 L833.9,1066.0 L837.2,1066.0 L840.6,1066.0 L844.0,1066.0 L847.4,1066.0 L850.8,1066.0 L854.2,1066.0 L857.6,1066.0 L861.0,1066.0 L864.4,1066.0 L867.8,1066.0 L871.1,1066.0 L874.5,1066.0 L877.9,1066.0 L881.3,1066.0 L884.7,1066.0" fill="none" stroke="#3f68b8" stroke-width="5.5" stroke-linejoin="round"/>
<path d="M71.2,1029.5 L74.6,1029.5 L78.0,1029.5 L81.4,1029.5 L84.8,1029.5 L88.1,1029.5 L91.5,1029.5 L94.9,1029.6 L98.3,1029.6 L101.7,1029.6 L105.1,1029.6 L108.5,1029.6 L111.9,1029.6 L115.3,1029.6 L118.7,1029.6 L122.0,1029.6 L125.4,1029.6 L128.8,1029.6 L132.2,1029.6 L135.6,1029.7 L139.0,1029.7 L142.4,1029.7 L145.8,1029.7 L149.2,1029.7 L152.6,1029.7 L155.9,1029.7 L159.3,1029.7 L162.7,1029.7 L166.1,1029.7 L169.5,1029.8 L172.9,1029.8 L176.3,1029.8 L179.7,1029.8 L183.1,1029.8 L186.4,1029.8 L189.8,1029.8 L193.2,1029.8 L196.6,1029.9 L200.0,1029.9 L203.4,1029.9 L206.8,1029.9 L210.2,1029.9 L213.6,1029.9 L217.0,1029.9 L220.3,1029.9 L223.7,1030.0 L227.1,1030.0 L230.5,1030.0 L233.9,1030.0 L237.3,1030.0 L240.7,1030.1 L244.1,1030.1 L247.5,1030.1 L250.8,1030.1 L254.2,1030.1 L257.6,1030.1 L261.0,1030.2 L264.4,1030.2 L267.8,1030.2 L271.2,1030.2 L274.6,1030.3 L278.0,1030.3 L281.4,1030.3 L284.7,1030.3 L288.1,1030.4 L291.5,1030.4 L294.9,1030.4 L298.3,1030.4 L301.7,1030.5 L305.1,1030.5 L308.5,1030.6 L311.9,1030.6 L315.3,1030.7 L318.6,1030.7 L322.0,1030.7 L325.4,1030.8 L328.8,1030.8 L332.2,1030.9 L335.6,1031.0 L339.0,1031.0 L342.4,1031.1 L345.8,1031.1 L349.1,1031.2 L352.5,1031.3 L355.9,1031.3 L359.3,1031.4 L362.7,1031.5 L366.1,1031.6 L369.5,1031.7 L372.9,1031.8 L376.3,1031.9 L379.7,1032.0 L383.0,1032.1 L386.4,1032.2 L389.8,1032.3 L393.2,1032.5 L396.6,1032.6 L400.0,1032.7 L403.4,1032.9 L406.8,1033.0 L410.2,1033.2 L413.5,1033.3 L416.9,1033.5 L420.3,1033.7 L423.7,1033.8 L427.1,1034.0 L430.5,1034.2 L433.9,1034.4 L437.3,1034.6 L440.7,1034.7 L444.1,1034.9 L447.4,1035.0 L450.8,1035.2 L454.2,1035.3 L457.6,1035.3 L461.0,1035.3 L464.4,1035.3 L467.8,1035.1 L471.2,1034.9 L474.6,1034.5 L478.0,1034.0 L481.3,1033.3 L484.7,1032.4 L488.1,1031.3 L491.5,1029.8 L494.9,1028.0 L498.3,1025.9 L501.7,1023.3 L505.1,1020.2 L508.5,1016.5 L511.8,1012.1 L515.2,1007.1 L518.6,1001.3 L522.0,994.6 L525.4,987.1 L528.8,978.5 L532.2,969.0 L535.6,958.5 L539.0,946.9 L542.4,934.3 L545.7,920.7 L549.1,906.3 L552.5,891.0 L555.9,875.2 L559.3,858.9 L562.7,842.5 L566.1,826.1 L569.5,810.1 L572.9,794.8 L576.2,780.6 L579.6,767.8 L583.0,756.7 L586.4,747.6 L589.8,740.9 L593.2,736.6 L596.6,735.0 L600.0,736.3 L603.4,741.0 L606.8,749.0 L610.1,760.0 L613.5,773.4 L616.9,788.8 L620.3,805.6 L623.7,823.1 L627.1,841.0 L630.5,858.8 L633.9,876.1 L637.3,892.8 L640.7,908.7 L644.0,923.6 L647.4,937.5 L650.8,950.4 L654.2,962.2 L657.6,973.0 L661.0,982.9 L664.4,991.8 L667.8,999.9 L671.2,1007.2 L674.5,1013.8 L677.9,1019.7 L681.3,1025.0 L684.7,1029.8 L688.1,1034.0 L691.5,1037.8 L694.9,1041.2 L698.3,1044.1 L701.7,1046.8 L705.1,1049.2 L708.4,1051.3 L711.8,1053.2 L715.2,1054.8 L718.6,1056.3 L722.0,1057.5 L725.4,1058.7 L728.8,1059.6 L732.2,1060.5 L735.6,1061.3 L738.9,1061.9 L742.3,1062.5 L745.7,1063.0 L749.1,1063.4 L752.5,1063.8 L755.9,1064.1 L759.3,1064.4 L762.7,1064.6 L766.1,1064.8 L769.5,1065.0 L772.8,1065.2 L776.2,1065.3 L779.6,1065.4 L783.0,1065.5 L786.4,1065.6 L789.8,1065.7 L793.2,1065.7 L796.6,1065.8 L800.0,1065.8 L803.4,1065.8 L806.7,1065.9 L810.1,1065.9 L813.5,1065.9 L816.9,1065.9 L820.3,1065.9 L823.7,1065.9 L827.1,1066.0 L830.5,1066.0 L833.9,1066.0 L837.2,1066.0 L840.6,1066.0 L844.0,1066.0 L847.4,1066.0 L850.8,1066.0 L854.2,1066.0 L857.6,1066.0 L861.0,1066.0 L864.4,1066.0 L867.8,1066.0 L871.1,1066.0 L874.5,1066.0 L877.9,1066.0 L881.3,1066.0 L884.7,1066.0" fill="none" stroke="#e7121a" stroke-width="5.5" stroke-linejoin="round"/>
<path d="M71.2,1029.5 L74.6,1029.5 L78.0,1029.5 L81.4,1029.5 L84.8,1029.5 L88.1,1029.5 L91.5,1029.5 L94.9,1029.6 L98.3,1029.6 L101.7,1029.6 L105.1,1029.6 L108.5,1029.6 L111.9,1029.6 L115.3,1029.6 L118.7,1029.6 L122.0,1029.6 L125.4,1029.6 L128.8,1029.6 L132.2,1029.6 L135.6,1029.7 L139.0,1029.7 L142.4,1029.7 L145.8,1029.7 L149.2,1029.7 L152.6,1029.7 L155.9,1029.7 L159.3,1029.7 L162.7,1029.7 L166.1,1029.7 L169.5,1029.8 L172.9,1029.8 L176.3,1029.8 L179.7,1029.8 L183.1,1029.8 L186.4,1029.8 L189.8,1029.8 L193.2,1029.8 L196.6,1029.9 L200.0,1029.9 L203.4,1029.9 L206.8,1029.9 L210.2,1029.9 L213.6,1029.9 L217.0,1029.9 L220.3,1029.9 L223.7,1030.0 L227.1,1030.0 L230.5,1030.0 L233.9,1030.0 L237.3,1030.0 L240.7,1030.1 L244.1,1030.1 L247.5,1030.1 L250.8,1030.1 L254.2,1030.1 L257.6,1030.1 L261.0,1030.2 L264.4,1030.2 L267.8,1030.2 L271.2,1030.2 L274.6,1030.3 L278.0,1030.3 L281.4,1030.3 L284.7,1030.3 L288.1,1030.4 L291.5,1030.4 L294.9,1030.4 L298.3,1030.4 L301.7,1030.5 L305.1,1030.5 L308.5,1030.6 L311.9,1030.6 L315.3,1030.7 L318.6,1030.7 L322.0,1030.7 L325.4,1030.8 L328.8,1030.8 L332.2,1030.9 L335.6,1031.0 L339.0,1031.0 L342.4,1031.1 L345.8,1031.1 L349.1,1031.2 L352.5,1031.3 L355.9,1031.3 L359.3,1031.4 L362.7,1031.5 L366.1,1031.6 L369.5,1031.7 L372.9,1031.8 L376.3,1031.9 L379.7,1032.0 L383.0,1032.1 L386.4,1032.2 L389.8,1032.3 L393.2,1032.5 L396.6,1032.6 L400.0,1032.7 L403.4,1032.9 L406.8,1033.0 L410.2,1033.2 L413.5,1033.3 L416.9,1033.5 L420.3,1033.7 L423.7,1033.9 L427.1,1034.1 L430.5,1034.3 L433.9,1034.5 L437.3,1034.7 L440.7,1035.0 L444.1,1035.2 L447.4,1035.5 L450.8,1035.7 L454.2,1036.0 L457.6,1036.2 L461.0,1036.5 L464.4,1036.8 L467.8,1037.0 L471.2,1037.3 L474.6,1037.6 L478.0,1037.8 L481.3,1038.1 L484.7,1038.4 L488.1,1038.7 L491.5,1038.9 L494.9,1039.2 L498.3,1039.5 L501.7,1039.7 L505.1,1040.0 L508.5,1040.3 L511.8,1040.6 L515.2,1040.8 L518.6,1041.1 L522.0,1041.4 L525.4,1041.8 L528.8,1042.1 L532.2,1042.4 L535.6,1042.8 L539.0,1043.2 L542.4,1043.6 L545.7,1044.0 L549.1,1044.5 L552.5,1045.0 L555.9,1045.6 L559.3,1046.2 L562.7,1046.8 L566.1,1047.4 L569.5,1048.1 L572.9,1048.9 L576.2,1049.7 L579.6,1050.5 L583.0,1051.3 L586.4,1052.1 L589.8,1053.0 L593.2,1053.9 L596.6,1054.8 L600.0,1055.6 L603.4,1056.5 L606.8,1057.3 L610.1,1058.1 L613.5,1058.8 L616.9,1059.5 L620.3,1060.2 L623.7,1060.8 L627.1,1061.3 L630.5,1061.9 L633.9,1062.3 L637.3,1062.8 L640.7,1063.1 L644.0,1063.5 L647.4,1063.8 L650.8,1064.1 L654.2,1064.3 L657.6,1064.5 L661.0,1064.7 L664.4,1064.9 L667.8,1065.0 L671.2,1065.1 L674.5,1065.3 L677.9,1065.3 L681.3,1065.4 L684.7,1065.5 L688.1,1065.5 L691.5,1065.6 L694.9,1065.6 L698.3,1065.6 L701.7,1065.7 L705.1,1065.7 L708.4,1065.7 L711.8,1065.8 L715.2,1065.8 L718.6,1065.8 L722.0,1065.9 L725.4,1065.9 L728.8,1065.9 L732.2,1065.9 L735.6,1065.9 L738.9,1065.9 L742.3,1065.9 L745.7,1066.0 L749.1,1066.0 L752.5,1066.0 L755.9,1066.0 L759.3,1066.0 L762.7,1066.0 L766.1,1066.0 L769.5,1066.0 L772.8,1066.0 L776.2,1066.0 L779.6,1066.0 L783.0,1066.0 L786.4,1066.0 L789.8,1066.0 L793.2,1066.0 L796.6,1066.0 L800.0,1066.0 L803.4,1066.0 L806.7,1066.0 L810.1,1066.0 L813.5,1066.0 L816.9,1066.0 L820.3,1066.0 L823.7,1066.0 L827.1,1066.0 L830.5,1066.0 L833.9,1066.0 L837.2,1066.0 L840.6,1066.0 L844.0,1066.0 L847.4,1066.0 L850.8,1066.0 L854.2,1066.0 L857.6,1066.0 L861.0,1066.0 L864.4,1066.0 L867.8,1066.0 L871.1,1066.0 L874.5,1066.0 L877.9,1066.0 L881.3,1066.0 L884.7,1066.0" fill="none" stroke="#000" stroke-width="4.4" stroke-linejoin="round"/>
<path d="M72.5,1031.8 L72.6,1031.5 L74.2,1031.6 L76.2,1032.0 L78.8,1032.7 L81.8,1033.4 L85.0,1033.9 L88.3,1033.9 L90.7,1033.5 L93.3,1032.8 L95.9,1031.9 L98.6,1030.9 L101.3,1030.0 L103.9,1029.3 L106.4,1029.0 L109.2,1029.1 L112.0,1029.7 L114.8,1030.5 L117.3,1031.3 L119.7,1031.9 L121.8,1032.1 L124.9,1031.1 L127.2,1029.3 L129.5,1028.2 L131.7,1028.8 L133.9,1030.1 L137.3,1030.8 L139.4,1030.6 L142.0,1030.3 L144.8,1029.7 L147.8,1029.2 L150.6,1028.7 L153.2,1028.3 L155.3,1028.2 L158.2,1029.1 L160.1,1030.7 L163.0,1031.6 L164.9,1031.5 L166.9,1031.1 L169.2,1030.5 L171.7,1029.9 L174.4,1029.2 L177.5,1028.6 L181.0,1028.2 L183.2,1028.0 L185.6,1027.9 L188.2,1027.8 L190.8,1027.7 L193.6,1027.7 L196.5,1027.6 L199.4,1027.6 L202.4,1027.5 L205.4,1027.4 L208.4,1027.3 L211.5,1027.2 L214.5,1027.0 L217.3,1026.8 L220.3,1026.6 L223.3,1026.3 L226.5,1026.0 L229.6,1025.7 L232.8,1025.4 L235.9,1025.1 L239.0,1024.8 L242.1,1024.5 L245.1,1024.1 L247.9,1023.8 L250.6,1023.4 L253.2,1023.1 L256.7,1022.6 L260.1,1022.0 L263.4,1021.5 L266.4,1020.9 L269.4,1020.3 L272.1,1019.8 L274.6,1019.2 L276.9,1018.7 L278.9,1018.2 L283.1,1016.8 L285.5,1015.5 L287.7,1014.8 L290.3,1015.1 L292.8,1015.8 L295.5,1016.1 L297.8,1015.5 L300.3,1014.5 L303.0,1013.5 L305.8,1012.8 L308.2,1012.8 L310.7,1013.1 L313.3,1013.5 L315.9,1013.7 L318.6,1013.5 L321.4,1012.6 L324.2,1011.3 L327.1,1009.7 L330.0,1008.4 L332.8,1007.6 L335.5,1007.5 L338.2,1008.0 L340.9,1008.7 L343.4,1009.2 L345.7,1009.2 L348.2,1008.4 L350.4,1007.1 L352.4,1005.7 L354.7,1004.5 L357.2,1003.7 L359.8,1003.1 L362.5,1002.5 L365.0,1001.9 L367.4,1001.1 L369.7,1000.2 L371.9,999.4 L374.0,998.9 L376.5,999.1 L378.9,999.7 L381.7,998.9 L384.3,996.6 L387.2,993.2 L390.2,989.6 L393.3,986.5 L395.9,984.6 L398.6,983.0 L401.4,981.6 L403.9,980.2 L406.2,978.8 L409.2,976.4 L411.6,974.0 L413.9,972.3 L416.1,971.9 L418.1,972.1 L420.4,971.0 L422.4,968.6 L424.5,965.2 L426.8,961.6 L429.4,958.2 L431.7,955.8 L434.2,953.5 L436.9,951.2 L439.6,948.9 L442.2,946.6 L444.7,944.1 L447.2,941.5 L449.7,939.0 L452.4,936.7 L455.1,935.0 L457.6,934.1 L460.2,933.5 L462.9,933.2 L465.5,933.0 L468.1,933.0 L470.6,932.9 L473.3,932.9 L475.8,933.2 L478.3,933.5 L480.8,933.8 L483.5,933.7 L486.0,933.4 L488.8,932.8 L491.6,932.2 L494.3,931.5 L496.8,930.9 L498.9,930.4 L501.6,929.9 L503.4,929.6 L505.5,929.2 L507.8,928.9 L510.4,928.6 L513.1,928.0 L515.8,926.6 L518.4,924.2 L520.9,921.0 L523.5,917.4 L526.1,913.8 L528.7,910.4 L531.2,906.9 L533.8,903.0 L536.4,898.3 L539.0,892.6 L541.7,886.0 L544.3,879.2 L546.7,872.5 L549.5,864.0 L552.0,855.6 L554.4,846.8 L556.5,837.4 L558.5,827.7 L560.8,818.5 L562.9,812.5 L565.3,807.1 L567.7,801.5 L569.8,795.3 L572.2,785.3 L574.2,774.4 L576.3,764.4 L578.4,755.7 L580.5,747.9 L582.7,741.2 L585.2,735.9 L587.9,731.8 L590.4,728.3 L592.5,725.3 L594.4,723.0 L596.5,721.4 L598.9,720.4 L601.4,720.2 L603.8,721.4 L605.9,724.0 L607.8,728.0 L609.8,733.5 L611.9,740.6 L614.0,749.2 L616.2,759.2 L618.7,771.1 L621.3,784.5 L623.9,797.9 L626.5,810.6 L629.0,823.3 L631.6,836.5 L634.2,850.7 L636.8,865.5 L639.4,880.3 L642.2,896.0 L644.9,911.8 L647.1,924.0 L648.3,930.8 L649.5,936.3 L651.7,945.8 L654.5,957.6 L657.9,969.7 L660.3,977.0 L663.1,984.5 L666.0,992.1 L668.9,999.4 L671.8,1006.0 L674.6,1011.9 L677.4,1017.4 L680.2,1022.4 L683.0,1027.0 L685.8,1031.1 L688.6,1034.7 L691.4,1037.8 L694.1,1040.5 L696.9,1042.8 L699.7,1045.0 L702.5,1046.9 L705.3,1048.5 L708.1,1049.8 L710.9,1050.9 L713.7,1052.0 L716.5,1052.9 L719.3,1053.7 L722.0,1054.3 L724.8,1054.9 L727.6,1055.6 L730.4,1056.4 L733.2,1057.2 L736.0,1058.0 L738.8,1058.8 L741.6,1059.5 L744.4,1060.1 L747.2,1060.8 L749.9,1061.3 L752.7,1061.8 L755.5,1062.3 L758.1,1062.7 L760.4,1063.1 L762.9,1063.5 L765.8,1063.7 L769.5,1064.0 L771.7,1064.1 L774.2,1064.2 L776.8,1064.3 L779.7,1064.3 L782.6,1064.4 L785.6,1064.4 L788.6,1064.5 L791.6,1064.5 L794.5,1064.5 L797.4,1064.6 L800.3,1064.6 L803.2,1064.7 L806.2,1064.7 L809.2,1064.7 L812.2,1064.7 L815.1,1064.7 L818.0,1064.8 L820.6,1064.9 L823.1,1065.0 L825.3,1065.1 L829.0,1065.6 L831.9,1066.3 L834.3,1067.1 L836.6,1067.7 L839.2,1067.9 L841.7,1067.6 L844.0,1067.0 L846.5,1066.2 L849.4,1065.5 L853.2,1065.1 L855.5,1065.1 L858.1,1065.1 L861.0,1065.2 L864.0,1065.4 L867.1,1065.5 L870.3,1065.7 L873.6,1065.9 L876.8,1066.2 L879.9,1066.3 L883.0,1066.5" fill="none" stroke="#050000" stroke-width="7.0" stroke-linejoin="round" stroke-linecap="round"/>
<path d="M71.2,1387.5 L74.6,1387.5 L78.0,1387.5 L81.4,1387.5 L84.8,1387.5 L88.1,1387.5 L91.5,1387.6 L94.9,1387.6 L98.3,1387.6 L101.7,1387.6 L105.1,1387.6 L108.5,1387.6 L111.9,1387.6 L115.3,1387.6 L118.7,1387.6 L122.0,1387.6 L125.4,1387.6 L128.8,1387.7 L132.2,1387.7 L135.6,1387.7 L139.0,1387.7 L142.4,1387.7 L145.8,1387.7 L149.2,1387.7 L152.6,1387.7 L155.9,1387.7 L159.3,1387.8 L162.7,1387.8 L166.1,1387.8 L169.5,1387.8 L172.9,1387.8 L176.3,1387.8 L179.7,1387.8 L183.1,1387.8 L186.4,1387.9 L189.8,1387.9 L193.2,1387.9 L196.6,1387.9 L200.0,1387.9 L203.4,1387.9 L206.8,1387.9 L210.2,1388.0 L213.6,1388.0 L217.0,1388.0 L220.3,1388.0 L223.7,1388.0 L227.1,1388.0 L230.5,1388.1 L233.9,1388.1 L237.3,1388.1 L240.7,1388.1 L244.1,1388.1 L247.5,1388.1 L250.8,1388.1 L254.2,1388.2 L257.6,1388.2 L261.0,1388.2 L264.4,1388.2 L267.8,1388.2 L271.2,1388.2 L274.6,1388.2 L278.0,1388.2 L281.4,1388.2 L284.7,1388.2 L288.1,1388.1 L291.5,1388.1 L294.9,1388.1 L298.3,1388.0 L301.7,1388.0 L305.1,1387.9 L308.5,1387.8 L311.9,1387.8 L315.3,1387.6 L318.6,1387.5 L322.0,1387.4 L325.4,1387.2 L328.8,1386.9 L332.2,1386.7 L335.6,1386.4 L339.0,1386.0 L342.4,1385.6 L345.8,1385.2 L349.1,1384.6 L352.5,1384.1 L355.9,1383.4 L359.3,1382.7 L362.7,1381.9 L366.1,1381.0 L369.5,1380.0 L372.9,1378.9 L376.3,1377.7 L379.7,1376.4 L383.0,1375.0 L386.4,1373.5 L389.8,1371.8 L393.2,1370.1 L396.6,1368.3 L400.0,1366.4 L403.4,1364.3 L406.8,1362.2 L410.2,1360.0 L413.5,1357.8 L416.9,1355.5 L420.3,1353.1 L423.7,1350.8 L427.1,1348.5 L430.5,1346.2 L433.9,1343.9 L437.3,1341.8 L440.7,1339.8 L444.1,1337.9 L447.4,1336.2 L450.8,1334.6 L454.2,1333.3 L457.6,1332.2 L461.0,1331.4 L464.4,1330.9 L467.8,1330.6 L471.2,1330.6 L474.6,1330.9 L478.0,1331.6 L481.3,1332.4 L484.7,1333.6 L488.1,1335.0 L491.5,1336.7 L494.9,1338.6 L498.3,1340.7 L501.7,1343.0 L505.1,1345.4 L508.5,1347.9 L511.8,1350.6 L515.2,1353.3 L518.6,1356.0 L522.0,1358.8 L525.4,1361.6 L528.8,1364.4 L532.2,1367.2 L535.6,1370.0 L539.0,1372.6 L542.4,1375.3 L545.7,1377.9 L549.1,1380.4 L552.5,1382.8 L555.9,1385.2 L559.3,1387.5 L562.7,1389.7 L566.1,1391.8 L569.5,1393.9 L572.9,1395.9 L576.2,1397.9 L579.6,1399.8 L583.0,1401.6 L586.4,1403.3 L589.8,1405.0 L593.2,1406.6 L596.6,1408.2 L600.0,1409.7 L603.4,1411.0 L606.8,1412.2 L610.1,1413.3 L613.5,1414.4 L616.9,1415.3 L620.3,1416.2 L623.7,1417.0 L627.1,1417.7 L630.5,1418.3 L633.9,1418.9 L637.3,1419.3 L640.7,1419.8 L644.0,1420.1 L647.4,1420.5 L650.8,1420.7 L654.2,1421.0 L657.6,1421.1 L661.0,1421.3 L664.4,1421.4 L667.8,1421.5 L671.2,1421.6 L674.5,1421.7 L677.9,1421.7 L681.3,1421.7 L684.7,1421.8 L688.1,1421.8 L691.5,1421.7 L694.9,1421.7 L698.3,1421.7 L701.7,1421.7 L705.1,1421.7 L708.4,1421.8 L711.8,1421.8 L715.2,1421.8 L718.6,1421.8 L722.0,1421.9 L725.4,1421.9 L728.8,1421.9 L732.2,1421.9 L735.6,1421.9 L738.9,1421.9 L742.3,1421.9 L745.7,1421.9 L749.1,1422.0 L752.5,1422.0 L755.9,1422.0 L759.3,1422.0 L762.7,1422.0 L766.1,1422.0 L769.5,1422.0 L772.8,1422.0 L776.2,1422.0 L779.6,1422.0 L783.0,1422.0 L786.4,1422.0 L789.8,1422.0 L793.2,1422.0 L796.6,1422.0 L800.0,1422.0 L803.4,1422.0 L806.7,1422.0 L810.1,1422.0 L813.5,1422.0 L816.9,1422.0 L820.3,1422.0 L823.7,1422.0 L827.1,1422.0 L830.5,1422.0 L833.9,1422.0 L837.2,1422.0 L840.6,1422.0 L844.0,1422.0 L847.4,1422.0 L850.8,1422.0 L854.2,1422.0 L857.6,1422.0 L861.0,1422.0 L864.4,1422.0 L867.8,1422.0 L871.1,1422.0 L874.5,1422.0 L877.9,1422.0 L881.3,1422.0 L884.7,1422.0" fill="none" stroke="#22ac38" stroke-width="5.5" stroke-linejoin="round"/>
<path d="M71.2,1387.1 L74.6,1387.1 L78.0,1387.1 L81.4,1387.0 L84.8,1387.0 L88.1,1387.0 L91.5,1387.0 L94.9,1387.0 L98.3,1386.9 L101.7,1386.9 L105.1,1386.9 L108.5,1386.8 L111.9,1386.8 L115.3,1386.8 L118.7,1386.7 L122.0,1386.7 L125.4,1386.7 L128.8,1386.6 L132.2,1386.6 L135.6,1386.5 L139.0,1386.5 L142.4,1386.4 L145.8,1386.4 L149.2,1386.3 L152.6,1386.3 L155.9,1386.2 L159.3,1386.2 L162.7,1386.1 L166.1,1386.0 L169.5,1386.0 L172.9,1385.9 L176.3,1385.8 L179.7,1385.8 L183.1,1385.7 L186.4,1385.6 L189.8,1385.5 L193.2,1385.5 L196.6,1385.4 L200.0,1385.3 L203.4,1385.2 L206.8,1385.1 L210.2,1385.0 L213.6,1384.9 L217.0,1384.8 L220.3,1384.8 L223.7,1384.7 L227.1,1384.6 L230.5,1384.5 L233.9,1384.4 L237.3,1384.3 L240.7,1384.2 L244.1,1384.0 L247.5,1383.9 L250.8,1383.8 L254.2,1383.7 L257.6,1383.6 L261.0,1383.5 L264.4,1383.4 L267.8,1383.3 L271.2,1383.2 L274.6,1383.1 L278.0,1383.0 L281.4,1382.9 L284.7,1382.8 L288.1,1382.6 L291.5,1382.5 L294.9,1382.4 L298.3,1382.3 L301.7,1382.2 L305.1,1382.2 L308.5,1382.1 L311.9,1382.0 L315.3,1382.0 L318.6,1381.9 L322.0,1381.8 L325.4,1381.8 L328.8,1381.7 L332.2,1381.7 L335.6,1381.6 L339.0,1381.6 L342.4,1381.5 L345.8,1381.5 L349.1,1381.5 L352.5,1381.4 L355.9,1381.4 L359.3,1381.4 L362.7,1381.4 L366.1,1381.4 L369.5,1381.4 L372.9,1381.4 L376.3,1381.5 L379.7,1381.5 L383.0,1381.5 L386.4,1381.6 L389.8,1381.7 L393.2,1381.7 L396.6,1381.8 L400.0,1381.9 L403.4,1382.0 L406.8,1382.1 L410.2,1382.2 L413.5,1382.3 L416.9,1382.5 L420.3,1382.6 L423.7,1382.8 L427.1,1383.0 L430.5,1383.1 L433.9,1383.3 L437.3,1383.6 L440.7,1383.8 L444.1,1384.0 L447.4,1384.2 L450.8,1384.5 L454.2,1384.8 L457.6,1385.0 L461.0,1385.3 L464.4,1385.6 L467.8,1385.9 L471.2,1386.2 L474.6,1386.5 L478.0,1386.8 L481.3,1387.1 L484.7,1387.5 L488.1,1387.8 L491.5,1388.1 L494.9,1388.5 L498.3,1388.8 L501.7,1389.2 L505.1,1389.5 L508.5,1389.9 L511.8,1390.3 L515.2,1390.7 L518.6,1391.1 L522.0,1391.5 L525.4,1391.9 L528.8,1392.4 L532.2,1392.9 L535.6,1393.4 L539.0,1393.9 L542.4,1394.5 L545.7,1395.1 L549.1,1395.8 L552.5,1396.4 L555.9,1397.2 L559.3,1397.9 L562.7,1398.7 L566.1,1399.6 L569.5,1400.5 L572.9,1401.4 L576.2,1402.3 L579.6,1403.3 L583.0,1404.3 L586.4,1405.4 L589.8,1406.4 L593.2,1407.5 L596.6,1408.5 L600.0,1409.6 L603.4,1410.5 L606.8,1411.4 L610.1,1412.3 L613.5,1413.1 L616.9,1413.9 L620.3,1414.6 L623.7,1415.2 L627.1,1415.9 L630.5,1416.4 L633.9,1416.9 L637.3,1417.4 L640.7,1417.8 L644.0,1418.2 L647.4,1418.5 L650.8,1418.8 L654.2,1419.0 L657.6,1419.3 L661.0,1419.5 L664.4,1419.6 L667.8,1419.8 L671.2,1419.9 L674.5,1420.0 L677.9,1420.1 L681.3,1420.2 L684.7,1420.3 L688.1,1420.4 L691.5,1420.4 L694.9,1420.4 L698.3,1420.5 L701.7,1420.5 L705.1,1420.6 L708.4,1420.7 L711.8,1420.8 L715.2,1420.9 L718.6,1420.9 L722.0,1421.0 L725.4,1421.1 L728.8,1421.1 L732.2,1421.2 L735.6,1421.2 L738.9,1421.3 L742.3,1421.3 L745.7,1421.3 L749.1,1421.4 L752.5,1421.4 L755.9,1421.5 L759.3,1421.5 L762.7,1421.5 L766.1,1421.5 L769.5,1421.6 L772.8,1421.6 L776.2,1421.6 L779.6,1421.6 L783.0,1421.7 L786.4,1421.7 L789.8,1421.7 L793.2,1421.7 L796.6,1421.7 L800.0,1421.8 L803.4,1421.8 L806.7,1421.8 L810.1,1421.8 L813.5,1421.8 L816.9,1421.8 L820.3,1421.8 L823.7,1421.9 L827.1,1421.9 L830.5,1421.9 L833.9,1421.9 L837.2,1421.9 L840.6,1421.9 L844.0,1421.9 L847.4,1421.9 L850.8,1421.9 L854.2,1421.9 L857.6,1421.9 L861.0,1421.9 L864.4,1421.9 L867.8,1421.9 L871.1,1421.9 L874.5,1422.0 L877.9,1422.0 L881.3,1422.0 L884.7,1422.0" fill="none" stroke="#3f68b8" stroke-width="5.5" stroke-linejoin="round"/>
<path d="M71.2,1387.5 L74.6,1387.5 L78.0,1387.5 L81.4,1387.5 L84.8,1387.5 L88.1,1387.5 L91.5,1387.6 L94.9,1387.6 L98.3,1387.6 L101.7,1387.6 L105.1,1387.6 L108.5,1387.6 L111.9,1387.6 L115.3,1387.6 L118.7,1387.6 L122.0,1387.6 L125.4,1387.6 L128.8,1387.7 L132.2,1387.7 L135.6,1387.7 L139.0,1387.7 L142.4,1387.7 L145.8,1387.7 L149.2,1387.7 L152.6,1387.7 L155.9,1387.7 L159.3,1387.8 L162.7,1387.8 L166.1,1387.8 L169.5,1387.8 L172.9,1387.8 L176.3,1387.8 L179.7,1387.8 L183.1,1387.8 L186.4,1387.9 L189.8,1387.9 L193.2,1387.9 L196.6,1387.9 L200.0,1387.9 L203.4,1387.9 L206.8,1388.0 L210.2,1388.0 L213.6,1388.0 L217.0,1388.0 L220.3,1388.0 L223.7,1388.0 L227.1,1388.1 L230.5,1388.1 L233.9,1388.1 L237.3,1388.1 L240.7,1388.1 L244.1,1388.1 L247.5,1388.2 L250.8,1388.2 L254.2,1388.2 L257.6,1388.2 L261.0,1388.2 L264.4,1388.3 L267.8,1388.3 L271.2,1388.3 L274.6,1388.3 L278.0,1388.4 L281.4,1388.4 L284.7,1388.4 L288.1,1388.4 L291.5,1388.5 L294.9,1388.5 L298.3,1388.5 L301.7,1388.5 L305.1,1388.6 L308.5,1388.7 L311.9,1388.7 L315.3,1388.8 L318.6,1388.8 L322.0,1388.9 L325.4,1388.9 L328.8,1389.0 L332.2,1389.1 L335.6,1389.1 L339.0,1389.2 L342.4,1389.3 L345.8,1389.3 L349.1,1389.4 L352.5,1389.5 L355.9,1389.5 L359.3,1389.6 L362.7,1389.7 L366.1,1389.8 L369.5,1389.9 L372.9,1389.9 L376.3,1390.0 L379.7,1390.1 L383.0,1390.2 L386.4,1390.3 L389.8,1390.5 L393.2,1390.6 L396.6,1390.7 L400.0,1390.8 L403.4,1390.9 L406.8,1391.0 L410.2,1391.2 L413.5,1391.3 L416.9,1391.4 L420.3,1391.5 L423.7,1391.7 L427.1,1391.8 L430.5,1391.9 L433.9,1392.1 L437.3,1392.2 L440.7,1392.3 L444.1,1392.4 L447.4,1392.4 L450.8,1392.5 L454.2,1392.4 L457.6,1392.4 L461.0,1392.2 L464.4,1392.0 L467.8,1391.7 L471.2,1391.2 L474.6,1390.6 L478.0,1389.9 L481.3,1388.9 L484.7,1387.7 L488.1,1386.2 L491.5,1384.4 L494.9,1382.2 L498.3,1379.5 L501.7,1376.4 L505.1,1372.8 L508.5,1368.5 L511.8,1363.6 L515.2,1358.0 L518.6,1351.5 L522.0,1344.3 L525.4,1336.1 L528.8,1327.0 L532.2,1317.0 L535.6,1306.0 L539.0,1294.1 L542.4,1281.3 L545.7,1267.6 L549.1,1253.2 L552.5,1238.2 L555.9,1222.7 L559.3,1207.0 L562.7,1191.3 L566.1,1175.8 L569.5,1160.9 L572.9,1146.8 L576.2,1133.9 L579.6,1122.4 L583.0,1112.6 L586.4,1104.9 L589.8,1099.4 L593.2,1096.3 L596.6,1095.6 L600.0,1098.1 L603.4,1104.3 L606.8,1114.1 L610.1,1127.0 L613.5,1142.4 L616.9,1159.4 L620.3,1177.6 L623.7,1196.3 L627.1,1215.0 L630.5,1233.3 L633.9,1250.9 L637.3,1267.5 L640.7,1283.1 L644.0,1297.5 L647.4,1310.8 L650.8,1322.9 L654.2,1333.9 L657.6,1343.9 L661.0,1352.9 L664.4,1360.9 L667.8,1368.1 L671.2,1374.6 L674.5,1380.3 L677.9,1385.4 L681.3,1389.9 L684.7,1393.9 L688.1,1397.4 L691.5,1400.5 L694.9,1403.3 L698.3,1405.6 L701.7,1407.8 L705.1,1409.7 L708.4,1411.4 L711.8,1412.8 L715.2,1414.1 L718.6,1415.2 L722.0,1416.2 L725.4,1417.0 L728.8,1417.7 L732.2,1418.4 L735.6,1418.9 L738.9,1419.4 L742.3,1419.8 L745.7,1420.1 L749.1,1420.4 L752.5,1420.7 L755.9,1420.9 L759.3,1421.1 L762.7,1421.2 L766.1,1421.3 L769.5,1421.4 L772.8,1421.5 L776.2,1421.6 L779.6,1421.7 L783.0,1421.7 L786.4,1421.8 L789.8,1421.8 L793.2,1421.9 L796.6,1421.9 L800.0,1421.9 L803.4,1421.9 L806.7,1421.9 L810.1,1421.9 L813.5,1422.0 L816.9,1422.0 L820.3,1422.0 L823.7,1422.0 L827.1,1422.0 L830.5,1422.0 L833.9,1422.0 L837.2,1422.0 L840.6,1422.0 L844.0,1422.0 L847.4,1422.0 L850.8,1422.0 L854.2,1422.0 L857.6,1422.0 L861.0,1422.0 L864.4,1422.0 L867.8,1422.0 L871.1,1422.0 L874.5,1422.0 L877.9,1422.0 L881.3,1422.0 L884.7,1422.0" fill="none" stroke="#e7121a" stroke-width="5.5" stroke-linejoin="round"/>
<path d="M71.2,1387.5 L74.6,1387.5 L78.0,1387.5 L81.4,1387.5 L84.8,1387.5 L88.1,1387.5 L91.5,1387.6 L94.9,1387.6 L98.3,1387.6 L101.7,1387.6 L105.1,1387.6 L108.5,1387.6 L111.9,1387.6 L115.3,1387.6 L118.7,1387.6 L122.0,1387.6 L125.4,1387.6 L128.8,1387.7 L132.2,1387.7 L135.6,1387.7 L139.0,1387.7 L142.4,1387.7 L145.8,1387.7 L149.2,1387.7 L152.6,1387.7 L155.9,1387.7 L159.3,1387.8 L162.7,1387.8 L166.1,1387.8 L169.5,1387.8 L172.9,1387.8 L176.3,1387.8 L179.7,1387.8 L183.1,1387.8 L186.4,1387.9 L189.8,1387.9 L193.2,1387.9 L196.6,1387.9 L200.0,1387.9 L203.4,1387.9 L206.8,1388.0 L210.2,1388.0 L213.6,1388.0 L217.0,1388.0 L220.3,1388.0 L223.7,1388.0 L227.1,1388.1 L230.5,1388.1 L233.9,1388.1 L237.3,1388.1 L240.7,1388.1 L244.1,1388.1 L247.5,1388.2 L250.8,1388.2 L254.2,1388.2 L257.6,1388.2 L261.0,1388.2 L264.4,1388.3 L267.8,1388.3 L271.2,1388.3 L274.6,1388.3 L278.0,1388.4 L281.4,1388.4 L284.7,1388.4 L288.1,1388.4 L291.5,1388.5 L294.9,1388.5 L298.3,1388.5 L301.7,1388.5 L305.1,1388.6 L308.5,1388.7 L311.9,1388.7 L315.3,1388.8 L318.6,1388.8 L322.0,1388.9 L325.4,1388.9 L328.8,1389.0 L332.2,1389.1 L335.6,1389.1 L339.0,1389.2 L342.4,1389.3 L345.8,1389.3 L349.1,1389.4 L352.5,1389.5 L355.9,1389.5 L359.3,1389.6 L362.7,1389.7 L366.1,1389.8 L369.5,1389.9 L372.9,1389.9 L376.3,1390.0 L379.7,1390.1 L383.0,1390.2 L386.4,1390.3 L389.8,1390.5 L393.2,1390.6 L396.6,1390.7 L400.0,1390.8 L403.4,1390.9 L406.8,1391.1 L410.2,1391.2 L413.5,1391.3 L416.9,1391.5 L420.3,1391.6 L423.7,1391.8 L427.1,1391.9 L430.5,1392.1 L433.9,1392.3 L437.3,1392.5 L440.7,1392.7 L444.1,1392.9 L447.4,1393.1 L450.8,1393.3 L454.2,1393.5 L457.6,1393.7 L461.0,1393.9 L464.4,1394.2 L467.8,1394.4 L471.2,1394.6 L474.6,1394.9 L478.0,1395.1 L481.3,1395.3 L484.7,1395.6 L488.1,1395.8 L491.5,1396.0 L494.9,1396.3 L498.3,1396.5 L501.7,1396.8 L505.1,1397.0 L508.5,1397.3 L511.8,1397.5 L515.2,1397.8 L518.6,1398.1 L522.0,1398.4 L525.4,1398.7 L528.8,1399.1 L532.2,1399.4 L535.6,1399.8 L539.0,1400.2 L542.4,1400.7 L545.7,1401.1 L549.1,1401.6 L552.5,1402.2 L555.9,1402.8 L559.3,1403.4 L562.7,1404.1 L566.1,1404.8 L569.5,1405.5 L572.9,1406.3 L576.2,1407.2 L579.6,1408.0 L583.0,1408.9 L586.4,1409.8 L589.8,1410.7 L593.2,1411.7 L596.6,1412.6 L600.0,1413.5 L603.4,1414.3 L606.8,1415.1 L610.1,1415.9 L613.5,1416.6 L616.9,1417.2 L620.3,1417.8 L623.7,1418.4 L627.1,1418.9 L630.5,1419.3 L633.9,1419.7 L637.3,1420.1 L640.7,1420.4 L644.0,1420.7 L647.4,1420.9 L650.8,1421.1 L654.2,1421.3 L657.6,1421.4 L661.0,1421.5 L664.4,1421.6 L667.8,1421.7 L671.2,1421.7 L674.5,1421.8 L677.9,1421.8 L681.3,1421.8 L684.7,1421.8 L688.1,1421.8 L691.5,1421.8 L694.9,1421.7 L698.3,1421.7 L701.7,1421.7 L705.1,1421.7 L708.4,1421.8 L711.8,1421.8 L715.2,1421.8 L718.6,1421.9 L722.0,1421.9 L725.4,1421.9 L728.8,1421.9 L732.2,1421.9 L735.6,1421.9 L738.9,1421.9 L742.3,1421.9 L745.7,1421.9 L749.1,1422.0 L752.5,1422.0 L755.9,1422.0 L759.3,1422.0 L762.7,1422.0 L766.1,1422.0 L769.5,1422.0 L772.8,1422.0 L776.2,1422.0 L779.6,1422.0 L783.0,1422.0 L786.4,1422.0 L789.8,1422.0 L793.2,1422.0 L796.6,1422.0 L800.0,1422.0 L803.4,1422.0 L806.7,1422.0 L810.1,1422.0 L813.5,1422.0 L816.9,1422.0 L820.3,1422.0 L823.7,1422.0 L827.1,1422.0 L830.5,1422.0 L833.9,1422.0 L837.2,1422.0 L840.6,1422.0 L844.0,1422.0 L847.4,1422.0 L850.8,1422.0 L854.2,1422.0 L857.6,1422.0 L861.0,1422.0 L864.4,1422.0 L867.8,1422.0 L871.1,1422.0 L874.5,1422.0 L877.9,1422.0 L881.3,1422.0 L884.7,1422.0" fill="none" stroke="#000" stroke-width="4.4" stroke-linejoin="round"/>
<path d="M72.5,1389.5 L72.2,1389.4 L74.2,1389.0 L76.1,1388.7 L78.8,1388.4 L81.8,1388.1 L85.1,1387.7 L88.3,1387.3 L91.2,1386.8 L93.5,1386.4 L96.6,1385.1 L98.5,1383.7 L101.2,1383.1 L103.3,1383.3 L105.6,1383.9 L108.1,1384.6 L110.9,1385.4 L113.7,1386.0 L116.7,1386.4 L119.3,1386.5 L122.1,1386.5 L124.9,1386.5 L127.8,1386.3 L130.9,1386.2 L134.0,1385.9 L137.3,1385.7 L139.9,1385.5 L142.7,1385.2 L145.5,1384.9 L148.4,1384.5 L151.3,1384.2 L154.2,1383.8 L157.2,1383.5 L160.1,1383.3 L163.0,1383.1 L166.0,1383.0 L169.1,1383.0 L172.3,1383.0 L175.5,1383.0 L178.6,1383.1 L181.5,1383.1 L184.3,1383.2 L186.7,1383.2 L188.8,1383.1 L192.7,1382.5 L194.6,1381.6 L196.5,1381.3 L199.2,1382.2 L201.8,1383.6 L204.2,1384.4 L207.0,1383.1 L209.4,1381.8 L211.5,1383.2 L214.5,1384.4 L216.6,1383.9 L219.2,1383.0 L222.1,1381.9 L224.9,1381.0 L227.4,1380.5 L230.2,1380.8 L232.9,1381.8 L235.4,1382.7 L237.7,1383.1 L240.1,1382.2 L242.2,1380.7 L245.4,1379.7 L247.5,1379.7 L250.0,1380.0 L252.8,1380.3 L255.7,1380.8 L258.6,1381.1 L261.2,1381.3 L263.5,1381.3 L266.6,1380.5 L269.0,1379.3 L271.2,1378.0 L273.8,1377.2 L276.2,1377.2 L278.7,1377.7 L281.2,1378.3 L283.8,1378.7 L286.4,1378.7 L289.0,1378.1 L291.6,1377.2 L294.2,1376.1 L296.8,1375.0 L299.3,1374.3 L302.4,1373.8 L305.4,1373.6 L308.3,1373.6 L310.9,1373.8 L313.6,1374.6 L315.8,1375.7 L318.6,1376.1 L320.8,1375.7 L323.4,1374.8 L326.1,1373.8 L328.8,1372.9 L331.5,1372.2 L334.1,1371.9 L336.8,1371.9 L339.4,1371.9 L342.0,1371.9 L344.4,1371.7 L347.2,1371.0 L349.7,1370.1 L352.2,1369.2 L354.7,1368.4 L357.3,1368.0 L359.9,1367.8 L362.5,1367.5 L365.0,1367.1 L367.3,1366.3 L369.6,1365.4 L371.8,1364.4 L374.0,1363.7 L376.2,1363.3 L378.4,1363.2 L380.7,1363.0 L383.0,1362.5 L385.5,1361.5 L388.2,1360.3 L390.9,1359.0 L393.3,1358.1 L396.0,1357.8 L398.3,1357.9 L401.0,1357.6 L403.4,1356.8 L406.0,1355.8 L408.7,1354.7 L411.3,1353.7 L413.8,1353.1 L416.4,1352.6 L418.9,1352.0 L421.6,1351.1 L424.5,1349.5 L427.6,1347.3 L430.5,1345.3 L433.2,1343.9 L436.0,1343.6 L438.5,1344.2 L441.0,1343.9 L443.1,1342.6 L445.2,1340.8 L447.5,1338.7 L450.0,1336.7 L452.4,1335.1 L455.0,1333.5 L457.8,1331.8 L460.4,1330.1 L462.8,1328.5 L465.3,1326.5 L467.6,1324.6 L469.7,1322.6 L471.9,1320.7 L474.2,1318.6 L476.5,1316.5 L478.7,1314.6 L480.9,1313.0 L483.6,1311.9 L486.2,1311.5 L488.6,1310.4 L490.8,1308.0 L492.9,1305.0 L495.0,1302.7 L497.2,1301.8 L499.3,1301.6 L501.5,1300.5 L503.5,1297.8 L505.6,1294.3 L508.0,1290.8 L510.3,1288.7 L512.9,1286.8 L515.6,1284.6 L518.3,1281.5 L520.9,1277.0 L523.4,1271.6 L526.0,1266.0 L528.6,1260.9 L531.2,1256.7 L533.9,1253.0 L536.5,1249.3 L538.9,1245.4 L541.7,1239.7 L544.2,1233.7 L546.7,1227.4 L549.3,1220.9 L551.8,1214.1 L554.4,1206.8 L557.0,1198.7 L559.5,1190.0 L562.1,1181.0 L564.7,1171.8 L567.2,1162.2 L569.8,1152.7 L572.4,1143.2 L575.0,1133.6 L577.6,1124.4 L580.2,1115.3 L582.8,1106.4 L585.3,1098.6 L587.6,1092.0 L589.7,1086.3 L591.7,1081.9 L594.3,1077.6 L596.9,1076.0 L598.9,1076.4 L601.1,1077.9 L603.3,1080.6 L605.5,1084.4 L607.6,1089.3 L609.8,1096.0 L611.9,1104.7 L614.0,1115.1 L616.2,1127.0 L618.7,1140.6 L621.3,1155.7 L623.9,1170.7 L626.5,1185.2 L629.0,1199.7 L631.6,1214.5 L634.3,1229.8 L637.0,1245.4 L639.6,1260.5 L642.0,1274.4 L644.3,1287.7 L646.7,1301.8 L649.2,1317.8 L651.8,1334.5 L655.1,1349.3 L657.5,1356.7 L660.3,1363.5 L663.2,1369.5 L666.1,1375.0 L669.0,1380.0 L671.8,1384.3 L674.5,1388.0 L677.2,1391.1 L680.0,1394.0 L683.0,1396.7 L685.7,1398.9 L688.5,1400.9 L691.4,1402.8 L694.2,1404.4 L697.0,1405.9 L699.7,1407.3 L702.7,1408.6 L705.5,1409.7 L708.2,1410.5 L710.9,1411.3 L713.7,1412.0 L716.5,1412.7 L719.3,1413.3 L722.0,1413.8 L724.8,1414.3 L727.6,1414.8 L730.2,1415.4 L732.5,1415.9 L735.0,1416.5 L737.9,1417.0 L741.6,1417.6 L743.8,1417.9 L746.3,1418.2 L748.9,1418.5 L751.8,1418.8 L754.7,1419.1 L757.7,1419.4 L760.7,1419.7 L763.7,1420.0 L766.6,1420.2 L769.5,1420.4 L772.3,1420.6 L775.2,1420.7 L778.0,1420.7 L780.9,1420.8 L783.8,1420.9 L786.6,1420.9 L789.4,1420.9 L792.2,1421.0 L794.8,1421.1 L797.4,1421.2 L800.5,1421.4 L803.4,1421.7 L806.2,1422.0 L808.9,1422.3 L811.6,1422.6 L814.3,1422.9 L817.0,1423.1 L819.7,1423.2 L822.4,1423.2 L824.8,1423.0 L827.2,1422.8 L829.7,1422.6 L832.3,1422.3 L835.1,1422.1 L838.3,1421.9 L842.0,1421.8 L844.4,1421.8 L846.9,1421.8 L849.5,1421.8 L852.4,1421.8 L855.3,1421.8 L858.3,1421.9 L861.3,1421.9 L864.4,1422.0 L867.6,1422.0 L870.7,1422.1 L873.9,1422.2 L877.0,1422.2 L880.0,1422.3 L883.0,1422.3" fill="none" stroke="#050000" stroke-width="7.0" stroke-linejoin="round" stroke-linecap="round"/>
</g>
<rect x="71.2" y="3.9" width="813.5" height="1445.3999999999999" fill="none" stroke="#000" stroke-width="4"/>
<rect x="71.2" y="3.9" width="154.10000000000002" height="69.39999999999999" fill="#fff" stroke="#000" stroke-width="4"/>
<line x1="71.2" y1="1449.3" x2="71.2" y2="1467.5" stroke="#000" stroke-width="4"/><line x1="342.4" y1="1449.3" x2="342.4" y2="1467.5" stroke="#000" stroke-width="4"/><line x1="613.5" y1="1449.3" x2="613.5" y2="1467.5" stroke="#000" stroke-width="4"/><line x1="884.7" y1="1449.3" x2="884.7" y2="1467.5" stroke="#000" stroke-width="4"/>
<line x1="94" y1="109.6" x2="146" y2="109.6" stroke="#e7121a" stroke-width="4.4"/>
<line x1="94" y1="184.3" x2="146" y2="184.3" stroke="#22ac38" stroke-width="4.4"/>
<line x1="94" y1="259.2" x2="146" y2="259.2" stroke="#0075c2" stroke-width="4.4"/>
<text x="82.16" y="58.50" font-size="58.5" textLength="120.47" lengthAdjust="spacingAndGlyphs" fill="#000" stroke="#000" stroke-width="0.7">C 1s</text>
<text x="156.88" y="123.20" font-size="57.7" textLength="356.26" lengthAdjust="spacingAndGlyphs" fill="#000" stroke="#000" stroke-width="0.7">graphitic C=C</text>
<text x="157.45" y="199.10" font-size="57.7" textLength="107.70" lengthAdjust="spacingAndGlyphs" fill="#000" stroke="#000" stroke-width="0.7">C-O</text>
<text x="157.46" y="273.80" font-size="57.7" textLength="121.58" lengthAdjust="spacingAndGlyphs" fill="#000" stroke="#000" stroke-width="0.7">C=O</text>
<text x="811.34" y="335.20" font-size="31" textLength="40.91" lengthAdjust="spacingAndGlyphs" fill="#000" stroke="#000" stroke-width="0.35">(a)</text>
<text x="811.87" y="685.00" font-size="31" textLength="40.36" lengthAdjust="spacingAndGlyphs" fill="#000" stroke="#000" stroke-width="0.35">(b)</text>
<text x="811.88" y="1039.50" font-size="31" textLength="38.15" lengthAdjust="spacingAndGlyphs" fill="#000" stroke="#000" stroke-width="0.35">(c)</text>
<text x="811.87" y="1385.50" font-size="31" textLength="40.36" lengthAdjust="spacingAndGlyphs" fill="#000" stroke="#000" stroke-width="0.35">(d)</text>
<text transform="translate(46.50,954.61) rotate(-90)" font-size="59.5" textLength="370.52" lengthAdjust="spacingAndGlyphs" fill="#000" stroke="#000" stroke-width="0.7">Intensity / a.u.</text>
<text x="21.60" y="1517.30" font-size="55.5" textLength="98.30" lengthAdjust="spacingAndGlyphs" fill="#231815" stroke="#231815" stroke-width="0.7">292</text>
<text x="291.42" y="1517.30" font-size="55.5" textLength="98.30" lengthAdjust="spacingAndGlyphs" fill="#231815" stroke="#231815" stroke-width="0.7">288</text>
<text x="561.81" y="1517.30" font-size="55.5" textLength="98.30" lengthAdjust="spacingAndGlyphs" fill="#231815" stroke="#231815" stroke-width="0.7">284</text>
<text x="832.92" y="1517.30" font-size="55.5" textLength="98.30" lengthAdjust="spacingAndGlyphs" fill="#231815" stroke="#231815" stroke-width="0.7">280</text>
<text x="210.48" y="1576.40" font-size="56.4" textLength="514.03" lengthAdjust="spacingAndGlyphs" fill="#231815" stroke="#231815" stroke-width="0.7">Binding Energy / eV</text>
</svg>
</body></html>
